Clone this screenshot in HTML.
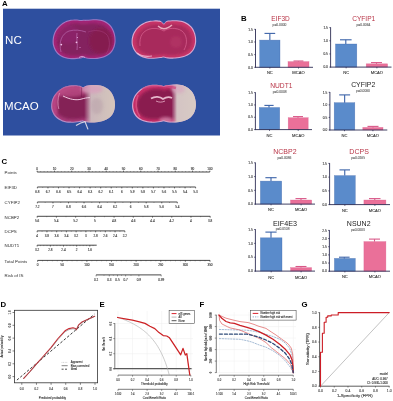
<!DOCTYPE html>
<html><head><meta charset="utf-8"><style>
html,body{margin:0;padding:0;background:#fff;}
body{width:393px;height:401px;overflow:hidden;}
svg{display:block;}
svg text{font-family:"Liberation Sans",sans-serif;}
</style></head><body>
<svg width="393" height="401" viewBox="0 0 393 401">
<defs><filter id="gblur" x="0" y="0" width="393" height="401" filterUnits="userSpaceOnUse"><feGaussianBlur stdDeviation="0.35"/></filter></defs>
<rect width="393" height="401" fill="#fff"/>
<g filter="url(#gblur)">
<rect width="393" height="401" fill="#fff"/>
<text x="2.00" y="6.40" font-size="7.8" fill="#000" text-anchor="start" font-weight="bold" >A</text>
<rect x="3.00" y="8.70" width="217.00" height="126.80" fill="#2f4f9f" />
<defs>
<filter id="bl" x="-0.1" y="-0.1" width="1.2" height="1.2"><feGaussianBlur stdDeviation="0.7"/></filter>
<filter id="bl2" x="-0.2" y="-0.2" width="1.4" height="1.4"><feGaussianBlur stdDeviation="1.6"/></filter>
<filter id="bl3" x="-0.2" y="-0.2" width="1.4" height="1.4"><feGaussianBlur stdDeviation="0.8"/></filter>
<linearGradient id="gM1" x1="0" x2="1" y1="0" y2="0">
<stop offset="0" stop-color="#d0b0c0" stop-opacity="0"/><stop offset="0.55" stop-color="#d0b0c0" stop-opacity="0"/><stop offset="0.64" stop-color="#ccb8bc" stop-opacity="1"/><stop offset="0.8" stop-color="#d0c0bc"/><stop offset="1" stop-color="#d8c8bc"/></linearGradient>
<linearGradient id="gM2" x1="0" x2="1" y1="0" y2="0">
<stop offset="0" stop-color="#d0b4c4" stop-opacity="0"/><stop offset="0.58" stop-color="#d0b4c4" stop-opacity="0"/><stop offset="0.65" stop-color="#d4c4c4" stop-opacity="1"/><stop offset="1" stop-color="#dacec4"/></linearGradient>
</defs>
<clipPath id="cp1"><path d="M 84.10,19.80 C 85.15,19.77 85.15,19.90 87.25,19.80 C 89.35,19.70 93.76,19.00 96.70,19.20 C 99.64,19.40 102.47,19.87 104.89,21.01 C 107.31,22.15 109.56,23.99 111.19,26.03 C 112.82,28.08 113.92,30.79 114.66,33.27 C 115.39,35.75 115.70,38.40 115.60,40.91 C 115.49,43.42 114.92,46.20 114.02,48.34 C 113.13,50.49 111.98,52.26 110.24,53.77 C 108.51,55.28 106.15,56.52 103.63,57.39 C 101.11,58.26 97.75,58.76 95.12,59.00 C 92.50,59.23 89.72,59.00 87.88,58.80 C 86.04,58.60 85.36,57.86 84.10,57.79 C 82.84,57.73 82.42,58.16 80.32,58.39 C 78.22,58.63 74.28,59.30 71.50,59.20 C 68.72,59.10 65.99,58.70 63.62,57.79 C 61.26,56.89 59.00,55.51 57.32,53.77 C 55.64,52.03 54.33,49.58 53.54,47.34 C 52.76,45.10 52.44,42.82 52.60,40.30 C 52.76,37.79 53.39,34.71 54.49,32.27 C 55.59,29.82 57.17,27.54 59.21,25.63 C 61.26,23.72 64.20,21.85 66.77,20.81 C 69.35,19.77 72.29,19.53 74.65,19.40 C 77.01,19.27 79.37,19.94 80.95,20.00 C 82.52,20.07 83.05,19.84 84.10,19.80 Z"/></clipPath>
<g filter="url(#bl)">
<path d="M 84.10,19.80 C 85.15,19.77 85.15,19.90 87.25,19.80 C 89.35,19.70 93.76,19.00 96.70,19.20 C 99.64,19.40 102.47,19.87 104.89,21.01 C 107.31,22.15 109.56,23.99 111.19,26.03 C 112.82,28.08 113.92,30.79 114.66,33.27 C 115.39,35.75 115.70,38.40 115.60,40.91 C 115.49,43.42 114.92,46.20 114.02,48.34 C 113.13,50.49 111.98,52.26 110.24,53.77 C 108.51,55.28 106.15,56.52 103.63,57.39 C 101.11,58.26 97.75,58.76 95.12,59.00 C 92.50,59.23 89.72,59.00 87.88,58.80 C 86.04,58.60 85.36,57.86 84.10,57.79 C 82.84,57.73 82.42,58.16 80.32,58.39 C 78.22,58.63 74.28,59.30 71.50,59.20 C 68.72,59.10 65.99,58.70 63.62,57.79 C 61.26,56.89 59.00,55.51 57.32,53.77 C 55.64,52.03 54.33,49.58 53.54,47.34 C 52.76,45.10 52.44,42.82 52.60,40.30 C 52.76,37.79 53.39,34.71 54.49,32.27 C 55.59,29.82 57.17,27.54 59.21,25.63 C 61.26,23.72 64.20,21.85 66.77,20.81 C 69.35,19.77 72.29,19.53 74.65,19.40 C 77.01,19.27 79.37,19.94 80.95,20.00 C 82.52,20.07 83.05,19.84 84.10,19.80 Z" fill="#a478c4"/>
<path d="M 84.10,20.87 C 85.11,20.84 85.11,20.96 87.14,20.87 C 89.17,20.77 93.42,20.11 96.26,20.30 C 99.10,20.49 101.83,20.93 104.16,22.01 C 106.49,23.09 108.67,24.83 110.24,26.76 C 111.81,28.69 112.88,31.26 113.59,33.60 C 114.30,35.94 114.60,38.45 114.50,40.82 C 114.40,43.20 113.84,45.82 112.98,47.85 C 112.12,49.88 111.00,51.55 109.33,52.98 C 107.66,54.41 105.38,55.58 102.95,56.40 C 100.52,57.22 97.27,57.70 94.74,57.92 C 92.21,58.14 89.52,57.92 87.75,57.73 C 85.97,57.54 85.32,56.84 84.10,56.78 C 82.88,56.72 82.48,57.13 80.45,57.35 C 78.43,57.57 74.63,58.20 71.94,58.11 C 69.25,58.02 66.62,57.64 64.34,56.78 C 62.06,55.92 59.88,54.63 58.26,52.98 C 56.64,51.33 55.37,49.02 54.61,46.90 C 53.85,44.78 53.55,42.62 53.70,40.25 C 53.85,37.88 54.46,34.96 55.52,32.65 C 56.59,30.34 58.11,28.18 60.08,26.38 C 62.06,24.57 64.90,22.80 67.38,21.82 C 69.86,20.84 72.70,20.62 74.98,20.49 C 77.26,20.36 79.54,21.00 81.06,21.06 C 82.58,21.12 83.09,20.90 84.10,20.87 Z" fill="#a42476"/>
<g clip-path="url(#cp1)"><path d="M 84.30,23.89 C 85.21,23.86 85.21,23.97 87.03,23.89 C 88.85,23.81 92.67,23.24 95.22,23.40 C 97.77,23.56 100.22,23.94 102.32,24.87 C 104.41,25.79 106.37,27.28 107.78,28.94 C 109.19,30.60 110.14,32.80 110.78,34.81 C 111.42,36.82 111.69,38.97 111.60,41.00 C 111.51,43.04 111.01,45.30 110.23,47.03 C 109.46,48.77 108.46,50.21 106.96,51.44 C 105.46,52.66 103.41,53.66 101.23,54.37 C 99.04,55.08 96.13,55.48 93.85,55.67 C 91.58,55.86 89.17,55.67 87.58,55.51 C 85.98,55.35 85.39,54.75 84.30,54.70 C 83.21,54.64 82.84,54.99 81.02,55.18 C 79.20,55.38 75.79,55.92 73.38,55.84 C 70.97,55.76 68.60,55.43 66.55,54.70 C 64.51,53.96 62.55,52.85 61.09,51.44 C 59.64,50.02 58.50,48.04 57.82,46.22 C 57.14,44.40 56.86,42.55 57.00,40.51 C 57.14,38.48 57.68,35.98 58.64,33.99 C 59.59,32.01 60.96,30.16 62.73,28.62 C 64.51,27.07 67.06,25.55 69.28,24.70 C 71.51,23.86 74.06,23.67 76.11,23.56 C 78.16,23.45 80.20,24.00 81.57,24.05 C 82.93,24.11 83.39,23.92 84.30,23.89 Z" fill="#84205e" filter="url(#bl2)"/></g>
<ellipse cx="68" cy="34" rx="11" ry="10" fill="#922870" opacity="0.5" filter="url(#bl2)"/>
<ellipse cx="101" cy="41" rx="12" ry="13" fill="#861a4c" opacity="0.75" filter="url(#bl2)"/>
<path d="M61,52 C58.5,42 61.5,34 69,31 C75,29.5 80,30 86,32" stroke="#c070b8" stroke-width="0.8" fill="none" opacity="0.75"/>
<path d="M88,32 C95,29.5 103,30 107.5,35.5 C110.5,41 110,49 106,54" stroke="#a84080" stroke-width="0.8" fill="none" opacity="0.6"/>
<path d="M77,33 C76,38 78,44 77,50" stroke="#c878c0" stroke-width="1.0" fill="none" opacity="0.6"/>
<circle cx="61.3" cy="44.6" r="0.9" fill="#f4c8f0"/>
<circle cx="76.5" cy="42.3" r="0.9" fill="#f0c0e8"/>
<circle cx="77.4" cy="37.5" r="0.6" fill="#e8b0e0"/>
<circle cx="80" cy="47.5" r="0.6" fill="#d890d0"/>
<path d="M79,57.5 C81,56 83,56 85,57.5" stroke="#e0b0e0" stroke-width="1.0" fill="none" opacity="0.8"/>
</g>
<clipPath id="cp2"><path d="M 163.90,23.69 C 164.98,23.66 164.98,21.36 167.13,20.78 C 169.28,20.20 173.81,20.01 176.82,20.20 C 179.83,20.39 182.74,20.85 185.22,21.95 C 187.69,23.05 190.01,24.82 191.68,26.80 C 193.35,28.77 194.48,31.39 195.23,33.78 C 195.98,36.17 196.31,38.73 196.20,41.15 C 196.09,43.58 195.50,46.26 194.59,48.33 C 193.67,50.40 192.49,52.11 190.71,53.57 C 188.93,55.02 186.51,56.22 183.93,57.06 C 181.34,57.90 177.90,58.39 175.21,58.61 C 172.51,58.84 169.66,58.61 167.78,58.42 C 165.89,58.22 165.19,57.51 163.90,57.45 C 162.61,57.38 162.18,57.80 160.02,58.03 C 157.87,58.26 153.83,58.90 150.98,58.81 C 148.13,58.71 145.33,58.32 142.91,57.45 C 140.48,56.58 138.17,55.25 136.44,53.57 C 134.72,51.89 133.38,49.53 132.57,47.36 C 131.76,45.19 131.44,42.99 131.60,40.57 C 131.76,38.15 132.41,35.17 133.54,32.81 C 134.67,30.45 136.28,28.25 138.38,26.41 C 140.48,24.57 143.50,22.75 146.13,21.75 C 148.77,20.75 151.79,20.52 154.21,20.39 C 156.63,20.26 159.06,20.43 160.67,20.98 C 162.29,21.53 162.82,23.72 163.90,23.69 Z"/></clipPath>
<g filter="url(#bl)">
<path d="M 163.90,23.69 C 164.98,23.66 164.98,21.36 167.13,20.78 C 169.28,20.20 173.81,20.01 176.82,20.20 C 179.83,20.39 182.74,20.85 185.22,21.95 C 187.69,23.05 190.01,24.82 191.68,26.80 C 193.35,28.77 194.48,31.39 195.23,33.78 C 195.98,36.17 196.31,38.73 196.20,41.15 C 196.09,43.58 195.50,46.26 194.59,48.33 C 193.67,50.40 192.49,52.11 190.71,53.57 C 188.93,55.02 186.51,56.22 183.93,57.06 C 181.34,57.90 177.90,58.39 175.21,58.61 C 172.51,58.84 169.66,58.61 167.78,58.42 C 165.89,58.22 165.19,57.51 163.90,57.45 C 162.61,57.38 162.18,57.80 160.02,58.03 C 157.87,58.26 153.83,58.90 150.98,58.81 C 148.13,58.71 145.33,58.32 142.91,57.45 C 140.48,56.58 138.17,55.25 136.44,53.57 C 134.72,51.89 133.38,49.53 132.57,47.36 C 131.76,45.19 131.44,42.99 131.60,40.57 C 131.76,38.15 132.41,35.17 133.54,32.81 C 134.67,30.45 136.28,28.25 138.38,26.41 C 140.48,24.57 143.50,22.75 146.13,21.75 C 148.77,20.75 151.79,20.52 154.21,20.39 C 156.63,20.26 159.06,20.43 160.67,20.98 C 162.29,21.53 162.82,23.72 163.90,23.69 Z" fill="#d8a8d0"/>
<path d="M 163.90,24.59 C 164.94,24.56 164.94,22.40 167.02,21.85 C 169.10,21.30 173.47,21.12 176.38,21.30 C 179.29,21.48 182.10,21.91 184.49,22.95 C 186.88,23.98 189.12,25.66 190.73,27.52 C 192.34,29.38 193.44,31.85 194.16,34.11 C 194.89,36.37 195.20,38.78 195.10,41.06 C 195.00,43.35 194.42,45.88 193.54,47.84 C 192.66,49.79 191.51,51.40 189.80,52.78 C 188.08,54.15 185.74,55.28 183.24,56.07 C 180.75,56.86 177.42,57.32 174.82,57.53 C 172.22,57.75 169.46,57.53 167.64,57.35 C 165.82,57.17 165.15,56.50 163.90,56.44 C 162.65,56.38 162.24,56.77 160.16,56.98 C 158.08,57.20 154.18,57.81 151.42,57.72 C 148.66,57.63 145.96,57.26 143.62,56.44 C 141.28,55.61 139.04,54.36 137.38,52.78 C 135.72,51.19 134.42,48.96 133.64,46.92 C 132.86,44.88 132.54,42.80 132.70,40.52 C 132.86,38.23 133.48,35.42 134.57,33.20 C 135.66,30.97 137.22,28.89 139.25,27.16 C 141.28,25.42 144.19,23.71 146.74,22.76 C 149.29,21.82 152.20,21.61 154.54,21.48 C 156.88,21.36 159.22,21.51 160.78,22.03 C 162.34,22.55 162.86,24.62 163.90,24.59 Z" fill="#c83468"/>
<g clip-path="url(#cp2)"><path d="M 164.10,27.21 C 165.04,27.18 165.04,25.34 166.91,24.87 C 168.78,24.40 172.72,24.24 175.34,24.40 C 177.96,24.56 180.49,24.92 182.65,25.80 C 184.80,26.69 186.81,28.12 188.27,29.70 C 189.72,31.29 190.70,33.40 191.36,35.32 C 192.01,37.24 192.29,39.30 192.20,41.25 C 192.11,43.20 191.59,45.36 190.79,47.02 C 190.00,48.68 188.97,50.06 187.42,51.23 C 185.88,52.40 183.77,53.36 181.52,54.04 C 179.27,54.72 176.28,55.11 173.94,55.29 C 171.59,55.47 169.11,55.29 167.47,55.13 C 165.83,54.98 165.22,54.40 164.10,54.35 C 162.98,54.30 162.60,54.64 160.73,54.82 C 158.85,55.00 155.34,55.52 152.86,55.44 C 150.38,55.37 147.94,55.05 145.83,54.35 C 143.73,53.65 141.71,52.58 140.22,51.23 C 138.72,49.88 137.55,47.98 136.84,46.24 C 136.14,44.50 135.86,42.73 136.00,40.78 C 136.14,38.83 136.70,36.44 137.69,34.54 C 138.67,32.64 140.07,30.87 141.90,29.39 C 143.73,27.91 146.35,26.45 148.64,25.65 C 150.94,24.84 153.56,24.66 155.67,24.56 C 157.78,24.45 159.88,24.58 161.29,25.02 C 162.69,25.47 163.16,27.23 164.10,27.21 Z" fill="#a82a5c" filter="url(#bl2)"/></g>
<path d="M158,26 C162,30 166,30 172,25" stroke="#f2b8c8" stroke-width="1.4" fill="none" opacity="0.9"/>
<path d="M140,46 C139,36 143,30 152,28.5 C158,28 161,29.5 164,31 C168,28 176,27 182,31 C187,35 188,43 184,50" stroke="#d86090" stroke-width="0.9" fill="none" opacity="0.8"/>
<path d="M137,53 C141,56 146,57 152,56" stroke="#f0c0d8" stroke-width="1.2" fill="none" opacity="0.8"/>
<ellipse cx="176" cy="42" rx="6" ry="6" fill="#b83a6a" opacity="0.5" filter="url(#bl2)"/>
</g>
<clipPath id="cp3"><path d="M 83.10,87.37 C 84.16,87.34 84.16,86.05 86.29,85.67 C 88.42,85.29 92.88,84.91 95.86,85.10 C 98.84,85.29 101.71,85.73 104.15,86.80 C 106.60,87.87 108.89,89.60 110.53,91.53 C 112.18,93.45 113.30,96.00 114.04,98.33 C 114.79,100.66 115.11,103.15 115.00,105.51 C 114.89,107.87 114.31,110.49 113.40,112.50 C 112.50,114.52 111.33,116.19 109.58,117.61 C 107.82,119.03 105.43,120.19 102.88,121.01 C 100.33,121.83 96.92,122.30 94.26,122.52 C 91.61,122.74 88.79,122.52 86.93,122.33 C 85.07,122.14 84.38,121.45 83.10,121.39 C 81.82,121.33 81.40,121.73 79.27,121.95 C 77.15,122.18 73.16,122.81 70.34,122.71 C 67.52,122.62 64.76,122.24 62.36,121.39 C 59.97,120.54 57.69,119.25 55.98,117.61 C 54.28,115.97 52.95,113.67 52.16,111.56 C 51.36,109.45 51.04,107.31 51.20,104.94 C 51.36,102.58 52.00,99.68 53.11,97.39 C 54.23,95.09 55.83,92.94 57.90,91.15 C 59.97,89.35 62.95,87.59 65.55,86.61 C 68.16,85.64 71.14,85.42 73.53,85.29 C 75.92,85.16 78.31,85.51 79.91,85.86 C 81.50,86.20 82.04,87.40 83.10,87.37 Z"/></clipPath>
<g filter="url(#bl)">
<path d="M 83.10,87.37 C 84.16,87.34 84.16,86.05 86.29,85.67 C 88.42,85.29 92.88,84.91 95.86,85.10 C 98.84,85.29 101.71,85.73 104.15,86.80 C 106.60,87.87 108.89,89.60 110.53,91.53 C 112.18,93.45 113.30,96.00 114.04,98.33 C 114.79,100.66 115.11,103.15 115.00,105.51 C 114.89,107.87 114.31,110.49 113.40,112.50 C 112.50,114.52 111.33,116.19 109.58,117.61 C 107.82,119.03 105.43,120.19 102.88,121.01 C 100.33,121.83 96.92,122.30 94.26,122.52 C 91.61,122.74 88.79,122.52 86.93,122.33 C 85.07,122.14 84.38,121.45 83.10,121.39 C 81.82,121.33 81.40,121.73 79.27,121.95 C 77.15,122.18 73.16,122.81 70.34,122.71 C 67.52,122.62 64.76,122.24 62.36,121.39 C 59.97,120.54 57.69,119.25 55.98,117.61 C 54.28,115.97 52.95,113.67 52.16,111.56 C 51.36,109.45 51.04,107.31 51.20,104.94 C 51.36,102.58 52.00,99.68 53.11,97.39 C 54.23,95.09 55.83,92.94 57.90,91.15 C 59.97,89.35 62.95,87.59 65.55,86.61 C 68.16,85.64 71.14,85.42 73.53,85.29 C 75.92,85.16 78.31,85.51 79.91,85.86 C 81.50,86.20 82.04,87.40 83.10,87.37 Z" fill="#b890c8"/>
<path d="M 83.10,88.34 C 84.13,88.31 84.13,87.09 86.18,86.73 C 88.23,86.38 92.55,86.02 95.42,86.20 C 98.29,86.38 101.07,86.79 103.43,87.80 C 105.79,88.81 108.00,90.44 109.59,92.25 C 111.18,94.06 112.26,96.46 112.98,98.66 C 113.69,100.86 114.00,103.20 113.90,105.42 C 113.80,107.65 113.23,110.11 112.36,112.01 C 111.49,113.91 110.36,115.48 108.66,116.82 C 106.97,118.15 104.66,119.25 102.20,120.02 C 99.73,120.79 96.45,121.24 93.88,121.44 C 91.31,121.65 88.59,121.44 86.80,121.27 C 85.00,121.09 84.33,120.44 83.10,120.38 C 81.87,120.32 81.46,120.70 79.40,120.91 C 77.35,121.12 73.50,121.71 70.78,121.62 C 68.06,121.53 65.39,121.18 63.08,120.38 C 60.77,119.58 58.56,118.36 56.92,116.82 C 55.28,115.27 53.99,113.11 53.22,111.12 C 52.45,109.13 52.15,107.12 52.30,104.89 C 52.45,102.66 53.07,99.94 54.15,97.77 C 55.23,95.60 56.77,93.59 58.77,91.90 C 60.77,90.20 63.64,88.54 66.16,87.62 C 68.68,86.70 71.55,86.50 73.86,86.38 C 76.17,86.26 78.48,86.59 80.02,86.91 C 81.56,87.24 82.07,88.37 83.10,88.34 Z" fill="#a83a78"/>
<g clip-path="url(#cp3)"><path d="M 83.30,91.11 C 84.22,91.09 84.22,90.06 86.07,89.75 C 87.92,89.45 91.79,89.15 94.38,89.30 C 96.97,89.45 99.46,89.80 101.58,90.66 C 103.71,91.51 105.69,92.90 107.12,94.43 C 108.55,95.97 109.52,98.01 110.17,99.87 C 110.82,101.73 111.09,103.72 111.00,105.61 C 110.91,107.50 110.40,109.58 109.61,111.20 C 108.83,112.81 107.81,114.14 106.29,115.27 C 104.77,116.40 102.69,117.34 100.47,117.99 C 98.26,118.64 95.30,119.02 92.99,119.20 C 90.69,119.37 88.24,119.20 86.62,119.05 C 85.01,118.90 84.41,118.34 83.30,118.29 C 82.19,118.24 81.82,118.57 79.98,118.75 C 78.13,118.92 74.67,119.42 72.22,119.35 C 69.77,119.27 67.37,118.97 65.30,118.29 C 63.22,117.61 61.23,116.58 59.75,115.27 C 58.28,113.96 57.12,112.13 56.43,110.44 C 55.74,108.75 55.46,107.04 55.60,105.16 C 55.74,103.27 56.29,100.95 57.26,99.12 C 58.23,97.28 59.62,95.57 61.42,94.13 C 63.22,92.70 65.80,91.29 68.06,90.51 C 70.33,89.73 72.91,89.55 74.99,89.45 C 77.07,89.35 79.14,89.63 80.53,89.90 C 81.92,90.18 82.38,91.14 83.30,91.11 Z" fill="#842256" filter="url(#bl2)"/></g>
<g clip-path="url(#cp3)">
<ellipse cx="70" cy="91" rx="17" ry="6" fill="#c05088" opacity="0.75" filter="url(#bl2)"/>
<ellipse cx="55" cy="104" rx="3" ry="12" fill="#c85090" opacity="0.6" filter="url(#bl2)"/>
<rect x="40" y="80" width="80" height="50" fill="url(#gM1)"/>
<ellipse cx="92" cy="89" rx="11" ry="4.5" fill="#d8a0bc" opacity="0.8" filter="url(#bl2)"/>
<ellipse cx="97" cy="106" rx="6" ry="8" fill="#b8a0a8" opacity="0.5" filter="url(#bl2)"/>
</g>
<path d="M63,96 C70,99.5 76,100.5 81,99.2 C84,98.3 87,97.6 90,97.6" stroke="#f0c8e0" stroke-width="1.0" fill="none"/>
<path d="M59.5,93 C57.5,99 57.5,104 58.8,109" stroke="#f0b8d8" stroke-width="0.7" fill="none" opacity="0.8"/>
<path d="M81.6,87.5 L81.6,97" stroke="#6a1040" stroke-width="0.6" fill="none" opacity="0.7"/>
</g>
<clipPath id="cp4"><path d="M 164.00,86.04 C 165.06,86.00 165.06,85.33 167.19,85.08 C 169.32,84.82 173.78,84.31 176.76,84.50 C 179.74,84.69 182.61,85.14 185.05,86.23 C 187.50,87.32 189.79,89.08 191.43,91.03 C 193.08,92.98 194.20,95.57 194.94,97.94 C 195.69,100.31 196.01,102.84 195.90,105.24 C 195.79,107.64 195.21,110.29 194.31,112.34 C 193.40,114.39 192.23,116.08 190.48,117.52 C 188.72,118.96 186.33,120.15 183.78,120.98 C 181.23,121.81 177.82,122.29 175.16,122.52 C 172.51,122.74 169.69,122.52 167.83,122.32 C 165.97,122.13 165.28,121.43 164.00,121.36 C 162.72,121.30 162.30,121.72 160.17,121.94 C 158.05,122.16 154.06,122.80 151.24,122.71 C 148.42,122.61 145.66,122.23 143.26,121.36 C 140.87,120.50 138.59,119.19 136.88,117.52 C 135.18,115.86 133.85,113.52 133.06,111.38 C 132.26,109.24 131.94,107.06 132.10,104.66 C 132.26,102.26 132.90,99.32 134.01,96.98 C 135.13,94.64 136.73,92.47 138.80,90.64 C 140.87,88.82 143.85,87.03 146.45,86.04 C 149.06,85.04 152.04,84.82 154.43,84.69 C 156.82,84.56 159.22,85.04 160.81,85.27 C 162.41,85.49 162.94,86.07 164.00,86.04 Z"/></clipPath>
<g filter="url(#bl)">
<path d="M 164.00,86.04 C 165.06,86.00 165.06,85.33 167.19,85.08 C 169.32,84.82 173.78,84.31 176.76,84.50 C 179.74,84.69 182.61,85.14 185.05,86.23 C 187.50,87.32 189.79,89.08 191.43,91.03 C 193.08,92.98 194.20,95.57 194.94,97.94 C 195.69,100.31 196.01,102.84 195.90,105.24 C 195.79,107.64 195.21,110.29 194.31,112.34 C 193.40,114.39 192.23,116.08 190.48,117.52 C 188.72,118.96 186.33,120.15 183.78,120.98 C 181.23,121.81 177.82,122.29 175.16,122.52 C 172.51,122.74 169.69,122.52 167.83,122.32 C 165.97,122.13 165.28,121.43 164.00,121.36 C 162.72,121.30 162.30,121.72 160.17,121.94 C 158.05,122.16 154.06,122.80 151.24,122.71 C 148.42,122.61 145.66,122.23 143.26,121.36 C 140.87,120.50 138.59,119.19 136.88,117.52 C 135.18,115.86 133.85,113.52 133.06,111.38 C 132.26,109.24 131.94,107.06 132.10,104.66 C 132.26,102.26 132.90,99.32 134.01,96.98 C 135.13,94.64 136.73,92.47 138.80,90.64 C 140.87,88.82 143.85,87.03 146.45,86.04 C 149.06,85.04 152.04,84.82 154.43,84.69 C 156.82,84.56 159.22,85.04 160.81,85.27 C 162.41,85.49 162.94,86.07 164.00,86.04 Z" fill="#d8a8d0"/>
<path d="M 164.00,87.05 C 165.03,87.02 165.03,86.38 167.08,86.14 C 169.13,85.90 173.45,85.42 176.32,85.60 C 179.19,85.78 181.97,86.20 184.33,87.23 C 186.69,88.25 188.90,89.91 190.49,91.75 C 192.08,93.59 193.16,96.04 193.88,98.27 C 194.59,100.50 194.90,102.89 194.80,105.15 C 194.70,107.41 194.13,109.91 193.26,111.84 C 192.39,113.78 191.26,115.37 189.56,116.73 C 187.87,118.09 185.56,119.21 183.10,119.99 C 180.63,120.77 177.35,121.23 174.78,121.44 C 172.21,121.65 169.49,121.44 167.70,121.26 C 165.90,121.08 165.23,120.41 164.00,120.35 C 162.77,120.29 162.36,120.68 160.30,120.89 C 158.25,121.11 154.40,121.71 151.68,121.62 C 148.96,121.53 146.29,121.17 143.98,120.35 C 141.67,119.54 139.46,118.30 137.82,116.73 C 136.18,115.16 134.89,112.96 134.12,110.94 C 133.35,108.92 133.05,106.87 133.20,104.61 C 133.35,102.34 133.97,99.57 135.05,97.37 C 136.13,95.16 137.67,93.11 139.67,91.39 C 141.67,89.67 144.54,87.98 147.06,87.05 C 149.58,86.11 152.45,85.90 154.76,85.78 C 157.07,85.66 159.38,86.11 160.92,86.32 C 162.46,86.54 162.97,87.08 164.00,87.05 Z" fill="#c83068"/>
<g clip-path="url(#cp4)"><path d="M 164.20,89.93 C 165.12,89.91 165.12,89.37 166.97,89.16 C 168.82,88.96 172.69,88.55 175.28,88.70 C 177.87,88.85 180.36,89.21 182.48,90.09 C 184.61,90.96 186.59,92.37 188.02,93.94 C 189.45,95.50 190.42,97.58 191.07,99.48 C 191.72,101.38 191.99,103.41 191.90,105.33 C 191.81,107.26 191.30,109.39 190.51,111.03 C 189.73,112.67 188.71,114.03 187.19,115.19 C 185.67,116.34 183.59,117.29 181.37,117.96 C 179.16,118.63 176.20,119.01 173.89,119.19 C 171.59,119.37 169.14,119.19 167.52,119.04 C 165.91,118.88 165.31,118.32 164.20,118.27 C 163.09,118.22 162.72,118.55 160.88,118.73 C 159.03,118.91 155.57,119.42 153.12,119.35 C 150.67,119.27 148.27,118.96 146.19,118.27 C 144.12,117.58 142.13,116.52 140.66,115.19 C 139.18,113.85 138.02,111.98 137.33,110.26 C 136.64,108.54 136.36,106.80 136.50,104.87 C 136.64,102.95 137.19,100.58 138.16,98.71 C 139.13,96.84 140.52,95.09 142.32,93.63 C 144.12,92.17 146.70,90.73 148.96,89.93 C 151.23,89.14 153.81,88.96 155.89,88.85 C 157.97,88.75 160.04,89.14 161.43,89.32 C 162.81,89.50 163.28,89.96 164.20,89.93 Z" fill="#8a1c50" filter="url(#bl2)"/></g>
<g clip-path="url(#cp4)">
<rect x="125" y="80" width="80" height="50" fill="url(#gM2)"/>
<ellipse cx="178" cy="89" rx="7" ry="4.5" fill="#d8a8c0" opacity="0.7" filter="url(#bl2)"/>
<ellipse cx="166" cy="120" rx="7" ry="3" fill="#d8a0c0" opacity="0.6" filter="url(#bl2)"/>
</g>
<path d="M151,98.5 C155,96 160,96.5 163,99 C166,97 169,96.5 172,98" stroke="#f0c8d8" stroke-width="1.8" fill="none" opacity="0.9"/>
<path d="M156,101 C159,102.5 162,102.5 165,101" stroke="#e8b0c8" stroke-width="1.0" fill="none" opacity="0.8"/>
<path d="M138,95 C135,103 136,111 140,117" stroke="#e05888" stroke-width="1.6" fill="none" opacity="0.7"/>
<path d="M142,88 C152,85 164,85 176,88" stroke="#d04880" stroke-width="2.4" fill="none" opacity="0.7" clip-path="url(#cp4)"/>
</g>
<path d="M76,125.5 C80,123 83,122 85,121.6 L88,129.4" stroke="#e8e0e8" stroke-width="1.2" fill="none" opacity="0.9" filter="url(#bl)"/>
<text x="5.10" y="44.10" font-size="11.5" fill="#fff" text-anchor="start" >NC</text>
<text x="4.10" y="110.40" font-size="11.5" fill="#fff" text-anchor="start" >MCAO</text>
<text x="241.00" y="20.90" font-size="7.8" fill="#000" text-anchor="start" font-weight="bold" >B</text>
<rect x="259.70" y="40.10" width="20.30" height="27.20" fill="#5a8bcb" stroke="#3a62a8" stroke-width="0.5" stroke-opacity="0.6"/>
<line x1="269.85" y1="40.10" x2="269.85" y2="33.40" stroke="#3a62a8" stroke-width="1.1" />
<line x1="264.50" y1="33.40" x2="275.20" y2="33.40" stroke="#3a62a8" stroke-width="1.1" />
<rect x="288.00" y="61.60" width="21.00" height="5.70" fill="#ea7099" stroke="#d85888" stroke-width="0.5" stroke-opacity="0.6"/>
<line x1="298.45" y1="61.60" x2="298.45" y2="61.00" stroke="#d85888" stroke-width="1.1" />
<line x1="293.50" y1="61.00" x2="303.40" y2="61.00" stroke="#d85888" stroke-width="1.1" />
<line x1="255.50" y1="29.00" x2="255.50" y2="67.70" stroke="#2c2c54" stroke-width="0.9" />
<line x1="255.10" y1="67.30" x2="313.00" y2="67.30" stroke="#2c2c54" stroke-width="0.9" />
<line x1="254.30" y1="67.30" x2="255.50" y2="67.30" stroke="#2c2c54" stroke-width="0.8" />
<text x="252.80" y="68.50" font-size="3.2" fill="#333" text-anchor="end" stroke="#333" stroke-width="0.1" >0.0</text>
<line x1="254.30" y1="54.63" x2="255.50" y2="54.63" stroke="#2c2c54" stroke-width="0.8" />
<text x="252.80" y="55.83" font-size="3.2" fill="#333" text-anchor="end" stroke="#333" stroke-width="0.1" >0.5</text>
<line x1="254.30" y1="41.97" x2="255.50" y2="41.97" stroke="#2c2c54" stroke-width="0.8" />
<text x="252.80" y="43.17" font-size="3.2" fill="#333" text-anchor="end" stroke="#333" stroke-width="0.1" >1.0</text>
<line x1="254.30" y1="29.30" x2="255.50" y2="29.30" stroke="#2c2c54" stroke-width="0.8" />
<text x="252.80" y="30.50" font-size="3.2" fill="#333" text-anchor="end" stroke="#333" stroke-width="0.1" >1.5</text>
<line x1="269.85" y1="67.30" x2="269.85" y2="68.50" stroke="#2c2c54" stroke-width="0.8" />
<text x="269.85" y="74.40" font-size="4.1" fill="#333" text-anchor="middle" stroke="#333" stroke-width="0.1" >NC</text>
<line x1="298.50" y1="67.30" x2="298.50" y2="68.50" stroke="#2c2c54" stroke-width="0.8" />
<text x="298.50" y="74.40" font-size="4.1" fill="#333" text-anchor="middle" stroke="#333" stroke-width="0.1" >MCAO</text>
<text x="280.50" y="20.60" font-size="6.5" fill="#b83446" text-anchor="middle" >EIF3D</text>
<text x="279.50" y="26.00" font-size="3.3" fill="#666" text-anchor="middle" stroke="#666" stroke-width="0.1" >p=0.0000</text>
<rect x="335.50" y="44.00" width="21.30" height="23.10" fill="#5a8bcb" stroke="#3a62a8" stroke-width="0.5" stroke-opacity="0.6"/>
<line x1="345.80" y1="44.00" x2="345.80" y2="39.80" stroke="#3a62a8" stroke-width="1.1" />
<line x1="340.00" y1="39.80" x2="351.60" y2="39.80" stroke="#3a62a8" stroke-width="1.1" />
<rect x="366.20" y="63.80" width="21.40" height="3.30" fill="#ea7099" stroke="#d85888" stroke-width="0.5" stroke-opacity="0.6"/>
<line x1="376.50" y1="63.80" x2="376.50" y2="62.60" stroke="#d85888" stroke-width="1.1" />
<line x1="371.00" y1="62.60" x2="382.00" y2="62.60" stroke="#d85888" stroke-width="1.1" />
<line x1="330.60" y1="27.30" x2="330.60" y2="67.50" stroke="#2c2c54" stroke-width="0.9" />
<line x1="330.20" y1="67.10" x2="391.50" y2="67.10" stroke="#2c2c54" stroke-width="0.9" />
<line x1="329.40" y1="67.10" x2="330.60" y2="67.10" stroke="#2c2c54" stroke-width="0.8" />
<text x="327.90" y="68.30" font-size="3.2" fill="#333" text-anchor="end" stroke="#333" stroke-width="0.1" >0.0</text>
<line x1="329.40" y1="53.93" x2="330.60" y2="53.93" stroke="#2c2c54" stroke-width="0.8" />
<text x="327.90" y="55.13" font-size="3.2" fill="#333" text-anchor="end" stroke="#333" stroke-width="0.1" >0.5</text>
<line x1="329.40" y1="40.77" x2="330.60" y2="40.77" stroke="#2c2c54" stroke-width="0.8" />
<text x="327.90" y="41.97" font-size="3.2" fill="#333" text-anchor="end" stroke="#333" stroke-width="0.1" >1.0</text>
<line x1="329.40" y1="27.60" x2="330.60" y2="27.60" stroke="#2c2c54" stroke-width="0.8" />
<text x="327.90" y="28.80" font-size="3.2" fill="#333" text-anchor="end" stroke="#333" stroke-width="0.1" >1.5</text>
<line x1="346.15" y1="67.10" x2="346.15" y2="68.30" stroke="#2c2c54" stroke-width="0.8" />
<text x="346.15" y="74.40" font-size="4.1" fill="#333" text-anchor="middle" stroke="#333" stroke-width="0.1" >NC</text>
<line x1="376.90" y1="67.10" x2="376.90" y2="68.30" stroke="#2c2c54" stroke-width="0.8" />
<text x="376.90" y="74.40" font-size="4.1" fill="#333" text-anchor="middle" stroke="#333" stroke-width="0.1" >MCAO</text>
<text x="363.70" y="21.10" font-size="6.6" fill="#b83446" text-anchor="middle" >CYFIP1</text>
<text x="363.40" y="26.00" font-size="3.3" fill="#666" text-anchor="middle" stroke="#666" stroke-width="0.1" >p=0.0064</text>
<rect x="259.30" y="107.50" width="20.40" height="22.10" fill="#5a8bcb" stroke="#3a62a8" stroke-width="0.5" stroke-opacity="0.6"/>
<line x1="269.00" y1="107.50" x2="269.00" y2="105.40" stroke="#3a62a8" stroke-width="1.1" />
<line x1="264.40" y1="105.40" x2="273.60" y2="105.40" stroke="#3a62a8" stroke-width="1.1" />
<rect x="288.20" y="117.70" width="20.00" height="11.90" fill="#ea7099" stroke="#d85888" stroke-width="0.5" stroke-opacity="0.6"/>
<line x1="298.00" y1="117.70" x2="298.00" y2="116.60" stroke="#d85888" stroke-width="1.1" />
<line x1="293.00" y1="116.60" x2="303.00" y2="116.60" stroke="#d85888" stroke-width="1.1" />
<line x1="255.40" y1="92.30" x2="255.40" y2="130.00" stroke="#2c2c54" stroke-width="0.9" />
<line x1="255.00" y1="129.60" x2="312.00" y2="129.60" stroke="#2c2c54" stroke-width="0.9" />
<line x1="254.20" y1="129.60" x2="255.40" y2="129.60" stroke="#2c2c54" stroke-width="0.8" />
<text x="252.70" y="130.80" font-size="3.2" fill="#333" text-anchor="end" stroke="#333" stroke-width="0.1" >0.0</text>
<line x1="254.20" y1="117.27" x2="255.40" y2="117.27" stroke="#2c2c54" stroke-width="0.8" />
<text x="252.70" y="118.47" font-size="3.2" fill="#333" text-anchor="end" stroke="#333" stroke-width="0.1" >0.5</text>
<line x1="254.20" y1="104.93" x2="255.40" y2="104.93" stroke="#2c2c54" stroke-width="0.8" />
<text x="252.70" y="106.13" font-size="3.2" fill="#333" text-anchor="end" stroke="#333" stroke-width="0.1" >1.0</text>
<line x1="254.20" y1="92.60" x2="255.40" y2="92.60" stroke="#2c2c54" stroke-width="0.8" />
<text x="252.70" y="93.80" font-size="3.2" fill="#333" text-anchor="end" stroke="#333" stroke-width="0.1" >1.5</text>
<line x1="269.50" y1="129.60" x2="269.50" y2="130.80" stroke="#2c2c54" stroke-width="0.8" />
<text x="269.50" y="136.90" font-size="4.1" fill="#333" text-anchor="middle" stroke="#333" stroke-width="0.1" >NC</text>
<line x1="298.20" y1="129.60" x2="298.20" y2="130.80" stroke="#2c2c54" stroke-width="0.8" />
<text x="298.20" y="136.90" font-size="4.1" fill="#333" text-anchor="middle" stroke="#333" stroke-width="0.1" >MCAO</text>
<text x="281.30" y="88.10" font-size="6.7" fill="#b83446" text-anchor="middle" >NUDT1</text>
<text x="279.70" y="93.00" font-size="3.3" fill="#666" text-anchor="middle" stroke="#666" stroke-width="0.1" >p=0.0008</text>
<rect x="334.20" y="102.70" width="20.60" height="27.30" fill="#5a8bcb" stroke="#3a62a8" stroke-width="0.5" stroke-opacity="0.6"/>
<line x1="344.65" y1="102.70" x2="344.65" y2="94.90" stroke="#3a62a8" stroke-width="1.1" />
<line x1="339.20" y1="94.90" x2="350.10" y2="94.90" stroke="#3a62a8" stroke-width="1.1" />
<rect x="362.80" y="127.40" width="20.20" height="2.60" fill="#ea7099" stroke="#d85888" stroke-width="0.5" stroke-opacity="0.6"/>
<line x1="373.00" y1="127.40" x2="373.00" y2="126.40" stroke="#d85888" stroke-width="1.1" />
<line x1="367.50" y1="126.40" x2="378.50" y2="126.40" stroke="#d85888" stroke-width="1.1" />
<line x1="329.90" y1="92.00" x2="329.90" y2="130.40" stroke="#2c2c54" stroke-width="0.9" />
<line x1="329.50" y1="130.00" x2="387.30" y2="130.00" stroke="#2c2c54" stroke-width="0.9" />
<line x1="328.70" y1="130.00" x2="329.90" y2="130.00" stroke="#2c2c54" stroke-width="0.8" />
<text x="327.20" y="131.20" font-size="3.2" fill="#333" text-anchor="end" stroke="#333" stroke-width="0.1" >0.0</text>
<line x1="328.70" y1="117.43" x2="329.90" y2="117.43" stroke="#2c2c54" stroke-width="0.8" />
<text x="327.20" y="118.63" font-size="3.2" fill="#333" text-anchor="end" stroke="#333" stroke-width="0.1" >0.5</text>
<line x1="328.70" y1="104.87" x2="329.90" y2="104.87" stroke="#2c2c54" stroke-width="0.8" />
<text x="327.20" y="106.07" font-size="3.2" fill="#333" text-anchor="end" stroke="#333" stroke-width="0.1" >1.0</text>
<line x1="328.70" y1="92.30" x2="329.90" y2="92.30" stroke="#2c2c54" stroke-width="0.8" />
<text x="327.20" y="93.50" font-size="3.2" fill="#333" text-anchor="end" stroke="#333" stroke-width="0.1" >1.5</text>
<line x1="344.50" y1="130.00" x2="344.50" y2="131.20" stroke="#2c2c54" stroke-width="0.8" />
<text x="344.50" y="136.90" font-size="4.1" fill="#333" text-anchor="middle" stroke="#333" stroke-width="0.1" >NC</text>
<line x1="372.90" y1="130.00" x2="372.90" y2="131.20" stroke="#2c2c54" stroke-width="0.8" />
<text x="372.90" y="136.90" font-size="4.1" fill="#333" text-anchor="middle" stroke="#333" stroke-width="0.1" >MCAO</text>
<text x="363.20" y="87.30" font-size="6.9" fill="#222" text-anchor="middle" >CYFIP2</text>
<text x="363.00" y="91.90" font-size="3.3" fill="#666" text-anchor="middle" stroke="#666" stroke-width="0.1" >p=0.0060</text>
<rect x="260.40" y="181.10" width="21.30" height="23.00" fill="#5a8bcb" stroke="#3a62a8" stroke-width="0.5" stroke-opacity="0.6"/>
<line x1="271.00" y1="181.10" x2="271.00" y2="177.70" stroke="#3a62a8" stroke-width="1.1" />
<line x1="265.40" y1="177.70" x2="276.60" y2="177.70" stroke="#3a62a8" stroke-width="1.1" />
<rect x="290.50" y="200.00" width="21.20" height="4.10" fill="#ea7099" stroke="#d85888" stroke-width="0.5" stroke-opacity="0.6"/>
<line x1="301.00" y1="200.00" x2="301.00" y2="198.60" stroke="#d85888" stroke-width="1.1" />
<line x1="295.50" y1="198.60" x2="306.50" y2="198.60" stroke="#d85888" stroke-width="1.1" />
<line x1="255.40" y1="162.50" x2="255.40" y2="204.50" stroke="#2c2c54" stroke-width="0.9" />
<line x1="255.00" y1="204.10" x2="315.00" y2="204.10" stroke="#2c2c54" stroke-width="0.9" />
<line x1="254.20" y1="204.10" x2="255.40" y2="204.10" stroke="#2c2c54" stroke-width="0.8" />
<text x="252.70" y="205.30" font-size="3.2" fill="#333" text-anchor="end" stroke="#333" stroke-width="0.1" >0.0</text>
<line x1="254.20" y1="190.33" x2="255.40" y2="190.33" stroke="#2c2c54" stroke-width="0.8" />
<text x="252.70" y="191.53" font-size="3.2" fill="#333" text-anchor="end" stroke="#333" stroke-width="0.1" >0.5</text>
<line x1="254.20" y1="176.57" x2="255.40" y2="176.57" stroke="#2c2c54" stroke-width="0.8" />
<text x="252.70" y="177.77" font-size="3.2" fill="#333" text-anchor="end" stroke="#333" stroke-width="0.1" >1.0</text>
<line x1="254.20" y1="162.80" x2="255.40" y2="162.80" stroke="#2c2c54" stroke-width="0.8" />
<text x="252.70" y="164.00" font-size="3.2" fill="#333" text-anchor="end" stroke="#333" stroke-width="0.1" >1.5</text>
<line x1="271.05" y1="204.10" x2="271.05" y2="205.30" stroke="#2c2c54" stroke-width="0.8" />
<text x="271.05" y="211.30" font-size="4.1" fill="#333" text-anchor="middle" stroke="#333" stroke-width="0.1" >NC</text>
<line x1="301.10" y1="204.10" x2="301.10" y2="205.30" stroke="#2c2c54" stroke-width="0.8" />
<text x="301.10" y="211.30" font-size="4.1" fill="#333" text-anchor="middle" stroke="#333" stroke-width="0.1" >MCAO</text>
<text x="284.90" y="153.60" font-size="7.0" fill="#b83446" text-anchor="middle" >NCBP2</text>
<text x="284.40" y="159.00" font-size="3.3" fill="#666" text-anchor="middle" stroke="#666" stroke-width="0.1" >p=0.0086</text>
<rect x="334.40" y="175.60" width="20.90" height="29.00" fill="#5a8bcb" stroke="#3a62a8" stroke-width="0.5" stroke-opacity="0.6"/>
<line x1="344.75" y1="175.60" x2="344.75" y2="169.90" stroke="#3a62a8" stroke-width="1.1" />
<line x1="339.50" y1="169.90" x2="350.00" y2="169.90" stroke="#3a62a8" stroke-width="1.1" />
<rect x="363.90" y="200.00" width="22.00" height="4.60" fill="#ea7099" stroke="#d85888" stroke-width="0.5" stroke-opacity="0.6"/>
<line x1="374.75" y1="200.00" x2="374.75" y2="198.60" stroke="#d85888" stroke-width="1.1" />
<line x1="369.00" y1="198.60" x2="380.50" y2="198.60" stroke="#d85888" stroke-width="1.1" />
<line x1="329.60" y1="163.10" x2="329.60" y2="205.00" stroke="#2c2c54" stroke-width="0.9" />
<line x1="329.20" y1="204.60" x2="390.00" y2="204.60" stroke="#2c2c54" stroke-width="0.9" />
<line x1="328.40" y1="204.60" x2="329.60" y2="204.60" stroke="#2c2c54" stroke-width="0.8" />
<text x="326.90" y="205.80" font-size="3.2" fill="#333" text-anchor="end" stroke="#333" stroke-width="0.1" >0.0</text>
<line x1="328.40" y1="190.87" x2="329.60" y2="190.87" stroke="#2c2c54" stroke-width="0.8" />
<text x="326.90" y="192.07" font-size="3.2" fill="#333" text-anchor="end" stroke="#333" stroke-width="0.1" >0.5</text>
<line x1="328.40" y1="177.13" x2="329.60" y2="177.13" stroke="#2c2c54" stroke-width="0.8" />
<text x="326.90" y="178.33" font-size="3.2" fill="#333" text-anchor="end" stroke="#333" stroke-width="0.1" >1.0</text>
<line x1="328.40" y1="163.40" x2="329.60" y2="163.40" stroke="#2c2c54" stroke-width="0.8" />
<text x="326.90" y="164.60" font-size="3.2" fill="#333" text-anchor="end" stroke="#333" stroke-width="0.1" >1.5</text>
<line x1="344.85" y1="204.60" x2="344.85" y2="205.80" stroke="#2c2c54" stroke-width="0.8" />
<text x="344.85" y="211.60" font-size="4.1" fill="#333" text-anchor="middle" stroke="#333" stroke-width="0.1" >NC</text>
<line x1="374.90" y1="204.60" x2="374.90" y2="205.80" stroke="#2c2c54" stroke-width="0.8" />
<text x="374.90" y="211.60" font-size="4.1" fill="#333" text-anchor="middle" stroke="#333" stroke-width="0.1" >MCAO</text>
<text x="359.10" y="153.60" font-size="7.0" fill="#b83446" text-anchor="middle" >DCPS</text>
<text x="358.10" y="159.10" font-size="3.3" fill="#666" text-anchor="middle" stroke="#666" stroke-width="0.1" >p=0.0165</text>
<rect x="260.40" y="237.80" width="21.60" height="33.30" fill="#5a8bcb" stroke="#3a62a8" stroke-width="0.5" stroke-opacity="0.6"/>
<line x1="271.00" y1="237.80" x2="271.00" y2="232.10" stroke="#3a62a8" stroke-width="1.1" />
<line x1="265.40" y1="232.10" x2="276.60" y2="232.10" stroke="#3a62a8" stroke-width="1.1" />
<rect x="290.60" y="267.60" width="21.00" height="3.50" fill="#ea7099" stroke="#d85888" stroke-width="0.5" stroke-opacity="0.6"/>
<line x1="301.00" y1="267.60" x2="301.00" y2="266.50" stroke="#d85888" stroke-width="1.1" />
<line x1="295.50" y1="266.50" x2="306.50" y2="266.50" stroke="#d85888" stroke-width="1.1" />
<line x1="255.40" y1="229.20" x2="255.40" y2="271.50" stroke="#2c2c54" stroke-width="0.9" />
<line x1="255.00" y1="271.10" x2="315.00" y2="271.10" stroke="#2c2c54" stroke-width="0.9" />
<line x1="254.20" y1="271.10" x2="255.40" y2="271.10" stroke="#2c2c54" stroke-width="0.8" />
<text x="252.70" y="272.30" font-size="3.2" fill="#333" text-anchor="end" stroke="#333" stroke-width="0.1" >0.0</text>
<line x1="254.20" y1="257.23" x2="255.40" y2="257.23" stroke="#2c2c54" stroke-width="0.8" />
<text x="252.70" y="258.43" font-size="3.2" fill="#333" text-anchor="end" stroke="#333" stroke-width="0.1" >0.5</text>
<line x1="254.20" y1="243.37" x2="255.40" y2="243.37" stroke="#2c2c54" stroke-width="0.8" />
<text x="252.70" y="244.57" font-size="3.2" fill="#333" text-anchor="end" stroke="#333" stroke-width="0.1" >1.0</text>
<line x1="254.20" y1="229.50" x2="255.40" y2="229.50" stroke="#2c2c54" stroke-width="0.8" />
<text x="252.70" y="230.70" font-size="3.2" fill="#333" text-anchor="end" stroke="#333" stroke-width="0.1" >1.5</text>
<line x1="271.20" y1="271.10" x2="271.20" y2="272.30" stroke="#2c2c54" stroke-width="0.8" />
<text x="271.20" y="278.60" font-size="4.1" fill="#333" text-anchor="middle" stroke="#333" stroke-width="0.1" >NC</text>
<line x1="301.10" y1="271.10" x2="301.10" y2="272.30" stroke="#2c2c54" stroke-width="0.8" />
<text x="301.10" y="278.60" font-size="4.1" fill="#333" text-anchor="middle" stroke="#333" stroke-width="0.1" >MCAO</text>
<text x="285.00" y="226.10" font-size="7.2" fill="#222" text-anchor="middle" >EIF4E3</text>
<text x="282.60" y="230.30" font-size="3.3" fill="#666" text-anchor="middle" stroke="#666" stroke-width="0.1" >p=0.0108</text>
<rect x="334.40" y="258.40" width="20.90" height="12.80" fill="#5a8bcb" stroke="#3a62a8" stroke-width="0.5" stroke-opacity="0.6"/>
<line x1="344.30" y1="258.40" x2="344.30" y2="257.20" stroke="#3a62a8" stroke-width="1.1" />
<line x1="339.00" y1="257.20" x2="349.60" y2="257.20" stroke="#3a62a8" stroke-width="1.1" />
<rect x="363.90" y="241.60" width="22.00" height="29.60" fill="#ea7099" stroke="#d85888" stroke-width="0.5" stroke-opacity="0.6"/>
<line x1="374.50" y1="241.60" x2="374.50" y2="239.10" stroke="#d85888" stroke-width="1.1" />
<line x1="369.00" y1="239.10" x2="380.00" y2="239.10" stroke="#d85888" stroke-width="1.1" />
<line x1="329.40" y1="230.10" x2="329.40" y2="271.60" stroke="#2c2c54" stroke-width="0.9" />
<line x1="329.00" y1="271.20" x2="390.00" y2="271.20" stroke="#2c2c54" stroke-width="0.9" />
<line x1="328.20" y1="271.20" x2="329.40" y2="271.20" stroke="#2c2c54" stroke-width="0.8" />
<text x="326.70" y="272.40" font-size="3.2" fill="#333" text-anchor="end" stroke="#333" stroke-width="0.1" >0.0</text>
<line x1="328.20" y1="263.04" x2="329.40" y2="263.04" stroke="#2c2c54" stroke-width="0.8" />
<text x="326.70" y="264.24" font-size="3.2" fill="#333" text-anchor="end" stroke="#333" stroke-width="0.1" >0.5</text>
<line x1="328.20" y1="254.88" x2="329.40" y2="254.88" stroke="#2c2c54" stroke-width="0.8" />
<text x="326.70" y="256.08" font-size="3.2" fill="#333" text-anchor="end" stroke="#333" stroke-width="0.1" >1.0</text>
<line x1="328.20" y1="246.72" x2="329.40" y2="246.72" stroke="#2c2c54" stroke-width="0.8" />
<text x="326.70" y="247.92" font-size="3.2" fill="#333" text-anchor="end" stroke="#333" stroke-width="0.1" >1.5</text>
<line x1="328.20" y1="238.56" x2="329.40" y2="238.56" stroke="#2c2c54" stroke-width="0.8" />
<text x="326.70" y="239.76" font-size="3.2" fill="#333" text-anchor="end" stroke="#333" stroke-width="0.1" >2.0</text>
<line x1="328.20" y1="230.40" x2="329.40" y2="230.40" stroke="#2c2c54" stroke-width="0.8" />
<text x="326.70" y="231.60" font-size="3.2" fill="#333" text-anchor="end" stroke="#333" stroke-width="0.1" >2.5</text>
<line x1="344.85" y1="271.20" x2="344.85" y2="272.40" stroke="#2c2c54" stroke-width="0.8" />
<text x="344.85" y="277.70" font-size="4.1" fill="#333" text-anchor="middle" stroke="#333" stroke-width="0.1" >NC</text>
<line x1="374.90" y1="271.20" x2="374.90" y2="272.40" stroke="#2c2c54" stroke-width="0.8" />
<text x="374.90" y="277.70" font-size="4.1" fill="#333" text-anchor="middle" stroke="#333" stroke-width="0.1" >MCAO</text>
<text x="358.70" y="226.00" font-size="7.0" fill="#222" text-anchor="middle" >NSUN2</text>
<text x="357.80" y="231.00" font-size="3.3" fill="#666" text-anchor="middle" stroke="#666" stroke-width="0.1" >p=0.0003</text>
<text x="1.60" y="164.00" font-size="7.8" fill="#000" text-anchor="start" font-weight="bold" >C</text>
<line x1="37.20" y1="172.00" x2="209.80" y2="172.00" stroke="#333" stroke-width="0.9" />
<line x1="37.20" y1="172.00" x2="37.20" y2="171.10" stroke="#333" stroke-width="0.4" />
<line x1="40.65" y1="172.00" x2="40.65" y2="171.10" stroke="#333" stroke-width="0.4" />
<line x1="44.10" y1="172.00" x2="44.10" y2="171.10" stroke="#333" stroke-width="0.4" />
<line x1="47.56" y1="172.00" x2="47.56" y2="171.10" stroke="#333" stroke-width="0.4" />
<line x1="51.01" y1="172.00" x2="51.01" y2="171.10" stroke="#333" stroke-width="0.4" />
<line x1="54.46" y1="172.00" x2="54.46" y2="171.10" stroke="#333" stroke-width="0.4" />
<line x1="57.91" y1="172.00" x2="57.91" y2="171.10" stroke="#333" stroke-width="0.4" />
<line x1="61.36" y1="172.00" x2="61.36" y2="171.10" stroke="#333" stroke-width="0.4" />
<line x1="64.82" y1="172.00" x2="64.82" y2="171.10" stroke="#333" stroke-width="0.4" />
<line x1="68.27" y1="172.00" x2="68.27" y2="171.10" stroke="#333" stroke-width="0.4" />
<line x1="71.72" y1="172.00" x2="71.72" y2="171.10" stroke="#333" stroke-width="0.4" />
<line x1="75.17" y1="172.00" x2="75.17" y2="171.10" stroke="#333" stroke-width="0.4" />
<line x1="78.62" y1="172.00" x2="78.62" y2="171.10" stroke="#333" stroke-width="0.4" />
<line x1="82.08" y1="172.00" x2="82.08" y2="171.10" stroke="#333" stroke-width="0.4" />
<line x1="85.53" y1="172.00" x2="85.53" y2="171.10" stroke="#333" stroke-width="0.4" />
<line x1="88.98" y1="172.00" x2="88.98" y2="171.10" stroke="#333" stroke-width="0.4" />
<line x1="92.43" y1="172.00" x2="92.43" y2="171.10" stroke="#333" stroke-width="0.4" />
<line x1="95.88" y1="172.00" x2="95.88" y2="171.10" stroke="#333" stroke-width="0.4" />
<line x1="99.34" y1="172.00" x2="99.34" y2="171.10" stroke="#333" stroke-width="0.4" />
<line x1="102.79" y1="172.00" x2="102.79" y2="171.10" stroke="#333" stroke-width="0.4" />
<line x1="106.24" y1="172.00" x2="106.24" y2="171.10" stroke="#333" stroke-width="0.4" />
<line x1="109.69" y1="172.00" x2="109.69" y2="171.10" stroke="#333" stroke-width="0.4" />
<line x1="113.14" y1="172.00" x2="113.14" y2="171.10" stroke="#333" stroke-width="0.4" />
<line x1="116.60" y1="172.00" x2="116.60" y2="171.10" stroke="#333" stroke-width="0.4" />
<line x1="120.05" y1="172.00" x2="120.05" y2="171.10" stroke="#333" stroke-width="0.4" />
<line x1="123.50" y1="172.00" x2="123.50" y2="171.10" stroke="#333" stroke-width="0.4" />
<line x1="126.95" y1="172.00" x2="126.95" y2="171.10" stroke="#333" stroke-width="0.4" />
<line x1="130.40" y1="172.00" x2="130.40" y2="171.10" stroke="#333" stroke-width="0.4" />
<line x1="133.86" y1="172.00" x2="133.86" y2="171.10" stroke="#333" stroke-width="0.4" />
<line x1="137.31" y1="172.00" x2="137.31" y2="171.10" stroke="#333" stroke-width="0.4" />
<line x1="140.76" y1="172.00" x2="140.76" y2="171.10" stroke="#333" stroke-width="0.4" />
<line x1="144.21" y1="172.00" x2="144.21" y2="171.10" stroke="#333" stroke-width="0.4" />
<line x1="147.66" y1="172.00" x2="147.66" y2="171.10" stroke="#333" stroke-width="0.4" />
<line x1="151.12" y1="172.00" x2="151.12" y2="171.10" stroke="#333" stroke-width="0.4" />
<line x1="154.57" y1="172.00" x2="154.57" y2="171.10" stroke="#333" stroke-width="0.4" />
<line x1="158.02" y1="172.00" x2="158.02" y2="171.10" stroke="#333" stroke-width="0.4" />
<line x1="161.47" y1="172.00" x2="161.47" y2="171.10" stroke="#333" stroke-width="0.4" />
<line x1="164.92" y1="172.00" x2="164.92" y2="171.10" stroke="#333" stroke-width="0.4" />
<line x1="168.38" y1="172.00" x2="168.38" y2="171.10" stroke="#333" stroke-width="0.4" />
<line x1="171.83" y1="172.00" x2="171.83" y2="171.10" stroke="#333" stroke-width="0.4" />
<line x1="175.28" y1="172.00" x2="175.28" y2="171.10" stroke="#333" stroke-width="0.4" />
<line x1="178.73" y1="172.00" x2="178.73" y2="171.10" stroke="#333" stroke-width="0.4" />
<line x1="182.18" y1="172.00" x2="182.18" y2="171.10" stroke="#333" stroke-width="0.4" />
<line x1="185.64" y1="172.00" x2="185.64" y2="171.10" stroke="#333" stroke-width="0.4" />
<line x1="189.09" y1="172.00" x2="189.09" y2="171.10" stroke="#333" stroke-width="0.4" />
<line x1="192.54" y1="172.00" x2="192.54" y2="171.10" stroke="#333" stroke-width="0.4" />
<line x1="195.99" y1="172.00" x2="195.99" y2="171.10" stroke="#333" stroke-width="0.4" />
<line x1="199.44" y1="172.00" x2="199.44" y2="171.10" stroke="#333" stroke-width="0.4" />
<line x1="202.90" y1="172.00" x2="202.90" y2="171.10" stroke="#333" stroke-width="0.4" />
<line x1="206.35" y1="172.00" x2="206.35" y2="171.10" stroke="#333" stroke-width="0.4" />
<line x1="209.80" y1="172.00" x2="209.80" y2="171.10" stroke="#333" stroke-width="0.4" />
<line x1="37.20" y1="172.00" x2="37.20" y2="170.50" stroke="#333" stroke-width="0.5" />
<text x="37.20" y="169.50" font-size="3.1" fill="#333" text-anchor="middle" stroke="#333" stroke-width="0.1" >0</text>
<line x1="54.46" y1="172.00" x2="54.46" y2="170.50" stroke="#333" stroke-width="0.5" />
<text x="54.46" y="169.50" font-size="3.1" fill="#333" text-anchor="middle" stroke="#333" stroke-width="0.1" >10</text>
<line x1="71.72" y1="172.00" x2="71.72" y2="170.50" stroke="#333" stroke-width="0.5" />
<text x="71.72" y="169.50" font-size="3.1" fill="#333" text-anchor="middle" stroke="#333" stroke-width="0.1" >20</text>
<line x1="88.98" y1="172.00" x2="88.98" y2="170.50" stroke="#333" stroke-width="0.5" />
<text x="88.98" y="169.50" font-size="3.1" fill="#333" text-anchor="middle" stroke="#333" stroke-width="0.1" >30</text>
<line x1="106.24" y1="172.00" x2="106.24" y2="170.50" stroke="#333" stroke-width="0.5" />
<text x="106.24" y="169.50" font-size="3.1" fill="#333" text-anchor="middle" stroke="#333" stroke-width="0.1" >40</text>
<line x1="123.50" y1="172.00" x2="123.50" y2="170.50" stroke="#333" stroke-width="0.5" />
<text x="123.50" y="169.50" font-size="3.1" fill="#333" text-anchor="middle" stroke="#333" stroke-width="0.1" >50</text>
<line x1="140.76" y1="172.00" x2="140.76" y2="170.50" stroke="#333" stroke-width="0.5" />
<text x="140.76" y="169.50" font-size="3.1" fill="#333" text-anchor="middle" stroke="#333" stroke-width="0.1" >60</text>
<line x1="158.02" y1="172.00" x2="158.02" y2="170.50" stroke="#333" stroke-width="0.5" />
<text x="158.02" y="169.50" font-size="3.1" fill="#333" text-anchor="middle" stroke="#333" stroke-width="0.1" >70</text>
<line x1="175.28" y1="172.00" x2="175.28" y2="170.50" stroke="#333" stroke-width="0.5" />
<text x="175.28" y="169.50" font-size="3.1" fill="#333" text-anchor="middle" stroke="#333" stroke-width="0.1" >80</text>
<line x1="192.54" y1="172.00" x2="192.54" y2="170.50" stroke="#333" stroke-width="0.5" />
<text x="192.54" y="169.50" font-size="3.1" fill="#333" text-anchor="middle" stroke="#333" stroke-width="0.1" >90</text>
<line x1="209.80" y1="172.00" x2="209.80" y2="170.50" stroke="#333" stroke-width="0.5" />
<text x="209.80" y="169.50" font-size="3.1" fill="#333" text-anchor="middle" stroke="#333" stroke-width="0.1" >100</text>
<text x="4.60" y="174.00" font-size="4.4" fill="#3a3a3a" text-anchor="start" stroke="#3a3a3a" stroke-width="0.03" >Points</text>
<line x1="37.40" y1="187.00" x2="195.60" y2="187.00" stroke="#333" stroke-width="0.9" />
<line x1="37.40" y1="187.00" x2="37.40" y2="187.90" stroke="#333" stroke-width="0.4" />
<line x1="42.67" y1="187.00" x2="42.67" y2="187.90" stroke="#333" stroke-width="0.4" />
<line x1="47.95" y1="187.00" x2="47.95" y2="187.90" stroke="#333" stroke-width="0.4" />
<line x1="53.22" y1="187.00" x2="53.22" y2="187.90" stroke="#333" stroke-width="0.4" />
<line x1="58.49" y1="187.00" x2="58.49" y2="187.90" stroke="#333" stroke-width="0.4" />
<line x1="63.77" y1="187.00" x2="63.77" y2="187.90" stroke="#333" stroke-width="0.4" />
<line x1="69.04" y1="187.00" x2="69.04" y2="187.90" stroke="#333" stroke-width="0.4" />
<line x1="74.31" y1="187.00" x2="74.31" y2="187.90" stroke="#333" stroke-width="0.4" />
<line x1="79.59" y1="187.00" x2="79.59" y2="187.90" stroke="#333" stroke-width="0.4" />
<line x1="84.86" y1="187.00" x2="84.86" y2="187.90" stroke="#333" stroke-width="0.4" />
<line x1="90.13" y1="187.00" x2="90.13" y2="187.90" stroke="#333" stroke-width="0.4" />
<line x1="95.41" y1="187.00" x2="95.41" y2="187.90" stroke="#333" stroke-width="0.4" />
<line x1="100.68" y1="187.00" x2="100.68" y2="187.90" stroke="#333" stroke-width="0.4" />
<line x1="105.95" y1="187.00" x2="105.95" y2="187.90" stroke="#333" stroke-width="0.4" />
<line x1="111.23" y1="187.00" x2="111.23" y2="187.90" stroke="#333" stroke-width="0.4" />
<line x1="116.50" y1="187.00" x2="116.50" y2="187.90" stroke="#333" stroke-width="0.4" />
<line x1="121.77" y1="187.00" x2="121.77" y2="187.90" stroke="#333" stroke-width="0.4" />
<line x1="127.05" y1="187.00" x2="127.05" y2="187.90" stroke="#333" stroke-width="0.4" />
<line x1="132.32" y1="187.00" x2="132.32" y2="187.90" stroke="#333" stroke-width="0.4" />
<line x1="137.59" y1="187.00" x2="137.59" y2="187.90" stroke="#333" stroke-width="0.4" />
<line x1="142.87" y1="187.00" x2="142.87" y2="187.90" stroke="#333" stroke-width="0.4" />
<line x1="148.14" y1="187.00" x2="148.14" y2="187.90" stroke="#333" stroke-width="0.4" />
<line x1="153.41" y1="187.00" x2="153.41" y2="187.90" stroke="#333" stroke-width="0.4" />
<line x1="158.69" y1="187.00" x2="158.69" y2="187.90" stroke="#333" stroke-width="0.4" />
<line x1="163.96" y1="187.00" x2="163.96" y2="187.90" stroke="#333" stroke-width="0.4" />
<line x1="169.23" y1="187.00" x2="169.23" y2="187.90" stroke="#333" stroke-width="0.4" />
<line x1="174.51" y1="187.00" x2="174.51" y2="187.90" stroke="#333" stroke-width="0.4" />
<line x1="179.78" y1="187.00" x2="179.78" y2="187.90" stroke="#333" stroke-width="0.4" />
<line x1="185.05" y1="187.00" x2="185.05" y2="187.90" stroke="#333" stroke-width="0.4" />
<line x1="190.33" y1="187.00" x2="190.33" y2="187.90" stroke="#333" stroke-width="0.4" />
<line x1="195.60" y1="187.00" x2="195.60" y2="187.90" stroke="#333" stroke-width="0.4" />
<line x1="37.40" y1="187.00" x2="37.40" y2="188.50" stroke="#333" stroke-width="0.5" />
<text x="37.40" y="192.90" font-size="3.1" fill="#333" text-anchor="middle" stroke="#333" stroke-width="0.1" >6.8</text>
<line x1="47.95" y1="187.00" x2="47.95" y2="188.50" stroke="#333" stroke-width="0.5" />
<text x="47.95" y="192.90" font-size="3.1" fill="#333" text-anchor="middle" stroke="#333" stroke-width="0.1" >6.7</text>
<line x1="58.49" y1="187.00" x2="58.49" y2="188.50" stroke="#333" stroke-width="0.5" />
<text x="58.49" y="192.90" font-size="3.1" fill="#333" text-anchor="middle" stroke="#333" stroke-width="0.1" >6.6</text>
<line x1="69.04" y1="187.00" x2="69.04" y2="188.50" stroke="#333" stroke-width="0.5" />
<text x="69.04" y="192.90" font-size="3.1" fill="#333" text-anchor="middle" stroke="#333" stroke-width="0.1" >6.5</text>
<line x1="79.59" y1="187.00" x2="79.59" y2="188.50" stroke="#333" stroke-width="0.5" />
<text x="79.59" y="192.90" font-size="3.1" fill="#333" text-anchor="middle" stroke="#333" stroke-width="0.1" >6.4</text>
<line x1="90.13" y1="187.00" x2="90.13" y2="188.50" stroke="#333" stroke-width="0.5" />
<text x="90.13" y="192.90" font-size="3.1" fill="#333" text-anchor="middle" stroke="#333" stroke-width="0.1" >6.3</text>
<line x1="100.68" y1="187.00" x2="100.68" y2="188.50" stroke="#333" stroke-width="0.5" />
<text x="100.68" y="192.90" font-size="3.1" fill="#333" text-anchor="middle" stroke="#333" stroke-width="0.1" >6.2</text>
<line x1="111.23" y1="187.00" x2="111.23" y2="188.50" stroke="#333" stroke-width="0.5" />
<text x="111.23" y="192.90" font-size="3.1" fill="#333" text-anchor="middle" stroke="#333" stroke-width="0.1" >6.1</text>
<line x1="121.77" y1="187.00" x2="121.77" y2="188.50" stroke="#333" stroke-width="0.5" />
<text x="121.77" y="192.90" font-size="3.1" fill="#333" text-anchor="middle" stroke="#333" stroke-width="0.1" >6</text>
<line x1="132.32" y1="187.00" x2="132.32" y2="188.50" stroke="#333" stroke-width="0.5" />
<text x="132.32" y="192.90" font-size="3.1" fill="#333" text-anchor="middle" stroke="#333" stroke-width="0.1" >5.9</text>
<line x1="142.87" y1="187.00" x2="142.87" y2="188.50" stroke="#333" stroke-width="0.5" />
<text x="142.87" y="192.90" font-size="3.1" fill="#333" text-anchor="middle" stroke="#333" stroke-width="0.1" >5.8</text>
<line x1="153.41" y1="187.00" x2="153.41" y2="188.50" stroke="#333" stroke-width="0.5" />
<text x="153.41" y="192.90" font-size="3.1" fill="#333" text-anchor="middle" stroke="#333" stroke-width="0.1" >5.7</text>
<line x1="163.96" y1="187.00" x2="163.96" y2="188.50" stroke="#333" stroke-width="0.5" />
<text x="163.96" y="192.90" font-size="3.1" fill="#333" text-anchor="middle" stroke="#333" stroke-width="0.1" >5.6</text>
<line x1="174.51" y1="187.00" x2="174.51" y2="188.50" stroke="#333" stroke-width="0.5" />
<text x="174.51" y="192.90" font-size="3.1" fill="#333" text-anchor="middle" stroke="#333" stroke-width="0.1" >5.5</text>
<line x1="185.05" y1="187.00" x2="185.05" y2="188.50" stroke="#333" stroke-width="0.5" />
<text x="185.05" y="192.90" font-size="3.1" fill="#333" text-anchor="middle" stroke="#333" stroke-width="0.1" >5.4</text>
<line x1="195.60" y1="187.00" x2="195.60" y2="188.50" stroke="#333" stroke-width="0.5" />
<text x="195.60" y="192.90" font-size="3.1" fill="#333" text-anchor="middle" stroke="#333" stroke-width="0.1" >5.3</text>
<text x="4.60" y="188.90" font-size="4.4" fill="#3a3a3a" text-anchor="start" stroke="#3a3a3a" stroke-width="0.03" >EIF3D</text>
<line x1="37.40" y1="202.00" x2="177.30" y2="202.00" stroke="#333" stroke-width="0.9" />
<line x1="37.40" y1="202.00" x2="37.40" y2="202.90" stroke="#333" stroke-width="0.4" />
<line x1="45.17" y1="202.00" x2="45.17" y2="202.90" stroke="#333" stroke-width="0.4" />
<line x1="52.94" y1="202.00" x2="52.94" y2="202.90" stroke="#333" stroke-width="0.4" />
<line x1="60.72" y1="202.00" x2="60.72" y2="202.90" stroke="#333" stroke-width="0.4" />
<line x1="68.49" y1="202.00" x2="68.49" y2="202.90" stroke="#333" stroke-width="0.4" />
<line x1="76.26" y1="202.00" x2="76.26" y2="202.90" stroke="#333" stroke-width="0.4" />
<line x1="84.03" y1="202.00" x2="84.03" y2="202.90" stroke="#333" stroke-width="0.4" />
<line x1="91.81" y1="202.00" x2="91.81" y2="202.90" stroke="#333" stroke-width="0.4" />
<line x1="99.58" y1="202.00" x2="99.58" y2="202.90" stroke="#333" stroke-width="0.4" />
<line x1="107.35" y1="202.00" x2="107.35" y2="202.90" stroke="#333" stroke-width="0.4" />
<line x1="115.12" y1="202.00" x2="115.12" y2="202.90" stroke="#333" stroke-width="0.4" />
<line x1="122.89" y1="202.00" x2="122.89" y2="202.90" stroke="#333" stroke-width="0.4" />
<line x1="130.67" y1="202.00" x2="130.67" y2="202.90" stroke="#333" stroke-width="0.4" />
<line x1="138.44" y1="202.00" x2="138.44" y2="202.90" stroke="#333" stroke-width="0.4" />
<line x1="146.21" y1="202.00" x2="146.21" y2="202.90" stroke="#333" stroke-width="0.4" />
<line x1="153.98" y1="202.00" x2="153.98" y2="202.90" stroke="#333" stroke-width="0.4" />
<line x1="161.76" y1="202.00" x2="161.76" y2="202.90" stroke="#333" stroke-width="0.4" />
<line x1="169.53" y1="202.00" x2="169.53" y2="202.90" stroke="#333" stroke-width="0.4" />
<line x1="177.30" y1="202.00" x2="177.30" y2="202.90" stroke="#333" stroke-width="0.4" />
<line x1="37.40" y1="202.00" x2="37.40" y2="203.50" stroke="#333" stroke-width="0.5" />
<text x="37.40" y="207.90" font-size="3.1" fill="#333" text-anchor="middle" stroke="#333" stroke-width="0.1" >7.2</text>
<line x1="52.94" y1="202.00" x2="52.94" y2="203.50" stroke="#333" stroke-width="0.5" />
<text x="52.94" y="207.90" font-size="3.1" fill="#333" text-anchor="middle" stroke="#333" stroke-width="0.1" >7</text>
<line x1="68.49" y1="202.00" x2="68.49" y2="203.50" stroke="#333" stroke-width="0.5" />
<text x="68.49" y="207.90" font-size="3.1" fill="#333" text-anchor="middle" stroke="#333" stroke-width="0.1" >6.8</text>
<line x1="84.03" y1="202.00" x2="84.03" y2="203.50" stroke="#333" stroke-width="0.5" />
<text x="84.03" y="207.90" font-size="3.1" fill="#333" text-anchor="middle" stroke="#333" stroke-width="0.1" >6.6</text>
<line x1="99.58" y1="202.00" x2="99.58" y2="203.50" stroke="#333" stroke-width="0.5" />
<text x="99.58" y="207.90" font-size="3.1" fill="#333" text-anchor="middle" stroke="#333" stroke-width="0.1" >6.4</text>
<line x1="115.12" y1="202.00" x2="115.12" y2="203.50" stroke="#333" stroke-width="0.5" />
<text x="115.12" y="207.90" font-size="3.1" fill="#333" text-anchor="middle" stroke="#333" stroke-width="0.1" >6.2</text>
<line x1="130.67" y1="202.00" x2="130.67" y2="203.50" stroke="#333" stroke-width="0.5" />
<text x="130.67" y="207.90" font-size="3.1" fill="#333" text-anchor="middle" stroke="#333" stroke-width="0.1" >6</text>
<line x1="146.21" y1="202.00" x2="146.21" y2="203.50" stroke="#333" stroke-width="0.5" />
<text x="146.21" y="207.90" font-size="3.1" fill="#333" text-anchor="middle" stroke="#333" stroke-width="0.1" >5.8</text>
<line x1="161.76" y1="202.00" x2="161.76" y2="203.50" stroke="#333" stroke-width="0.5" />
<text x="161.76" y="207.90" font-size="3.1" fill="#333" text-anchor="middle" stroke="#333" stroke-width="0.1" >5.6</text>
<line x1="177.30" y1="202.00" x2="177.30" y2="203.50" stroke="#333" stroke-width="0.5" />
<text x="177.30" y="207.90" font-size="3.1" fill="#333" text-anchor="middle" stroke="#333" stroke-width="0.1" >5.4</text>
<text x="4.60" y="204.10" font-size="4.4" fill="#3a3a3a" text-anchor="start" stroke="#3a3a3a" stroke-width="0.03" >CYFIP2</text>
<line x1="37.20" y1="216.30" x2="210.20" y2="216.30" stroke="#333" stroke-width="0.9" />
<line x1="37.20" y1="216.30" x2="37.20" y2="217.20" stroke="#333" stroke-width="0.4" />
<line x1="46.81" y1="216.30" x2="46.81" y2="217.20" stroke="#333" stroke-width="0.4" />
<line x1="56.42" y1="216.30" x2="56.42" y2="217.20" stroke="#333" stroke-width="0.4" />
<line x1="66.03" y1="216.30" x2="66.03" y2="217.20" stroke="#333" stroke-width="0.4" />
<line x1="75.64" y1="216.30" x2="75.64" y2="217.20" stroke="#333" stroke-width="0.4" />
<line x1="85.26" y1="216.30" x2="85.26" y2="217.20" stroke="#333" stroke-width="0.4" />
<line x1="94.87" y1="216.30" x2="94.87" y2="217.20" stroke="#333" stroke-width="0.4" />
<line x1="104.48" y1="216.30" x2="104.48" y2="217.20" stroke="#333" stroke-width="0.4" />
<line x1="114.09" y1="216.30" x2="114.09" y2="217.20" stroke="#333" stroke-width="0.4" />
<line x1="123.70" y1="216.30" x2="123.70" y2="217.20" stroke="#333" stroke-width="0.4" />
<line x1="133.31" y1="216.30" x2="133.31" y2="217.20" stroke="#333" stroke-width="0.4" />
<line x1="142.92" y1="216.30" x2="142.92" y2="217.20" stroke="#333" stroke-width="0.4" />
<line x1="152.53" y1="216.30" x2="152.53" y2="217.20" stroke="#333" stroke-width="0.4" />
<line x1="162.14" y1="216.30" x2="162.14" y2="217.20" stroke="#333" stroke-width="0.4" />
<line x1="171.76" y1="216.30" x2="171.76" y2="217.20" stroke="#333" stroke-width="0.4" />
<line x1="181.37" y1="216.30" x2="181.37" y2="217.20" stroke="#333" stroke-width="0.4" />
<line x1="190.98" y1="216.30" x2="190.98" y2="217.20" stroke="#333" stroke-width="0.4" />
<line x1="200.59" y1="216.30" x2="200.59" y2="217.20" stroke="#333" stroke-width="0.4" />
<line x1="210.20" y1="216.30" x2="210.20" y2="217.20" stroke="#333" stroke-width="0.4" />
<line x1="37.20" y1="216.30" x2="37.20" y2="217.80" stroke="#333" stroke-width="0.5" />
<text x="37.20" y="222.20" font-size="3.1" fill="#333" text-anchor="middle" stroke="#333" stroke-width="0.1" >5.6</text>
<line x1="56.42" y1="216.30" x2="56.42" y2="217.80" stroke="#333" stroke-width="0.5" />
<text x="56.42" y="222.20" font-size="3.1" fill="#333" text-anchor="middle" stroke="#333" stroke-width="0.1" >5.4</text>
<line x1="75.64" y1="216.30" x2="75.64" y2="217.80" stroke="#333" stroke-width="0.5" />
<text x="75.64" y="222.20" font-size="3.1" fill="#333" text-anchor="middle" stroke="#333" stroke-width="0.1" >5.2</text>
<line x1="94.87" y1="216.30" x2="94.87" y2="217.80" stroke="#333" stroke-width="0.5" />
<text x="94.87" y="222.20" font-size="3.1" fill="#333" text-anchor="middle" stroke="#333" stroke-width="0.1" >5</text>
<line x1="114.09" y1="216.30" x2="114.09" y2="217.80" stroke="#333" stroke-width="0.5" />
<text x="114.09" y="222.20" font-size="3.1" fill="#333" text-anchor="middle" stroke="#333" stroke-width="0.1" >4.8</text>
<line x1="133.31" y1="216.30" x2="133.31" y2="217.80" stroke="#333" stroke-width="0.5" />
<text x="133.31" y="222.20" font-size="3.1" fill="#333" text-anchor="middle" stroke="#333" stroke-width="0.1" >4.6</text>
<line x1="152.53" y1="216.30" x2="152.53" y2="217.80" stroke="#333" stroke-width="0.5" />
<text x="152.53" y="222.20" font-size="3.1" fill="#333" text-anchor="middle" stroke="#333" stroke-width="0.1" >4.4</text>
<line x1="171.76" y1="216.30" x2="171.76" y2="217.80" stroke="#333" stroke-width="0.5" />
<text x="171.76" y="222.20" font-size="3.1" fill="#333" text-anchor="middle" stroke="#333" stroke-width="0.1" >4.2</text>
<line x1="190.98" y1="216.30" x2="190.98" y2="217.80" stroke="#333" stroke-width="0.5" />
<text x="190.98" y="222.20" font-size="3.1" fill="#333" text-anchor="middle" stroke="#333" stroke-width="0.1" >4</text>
<line x1="210.20" y1="216.30" x2="210.20" y2="217.80" stroke="#333" stroke-width="0.5" />
<text x="210.20" y="222.20" font-size="3.1" fill="#333" text-anchor="middle" stroke="#333" stroke-width="0.1" >3.8</text>
<text x="4.60" y="218.50" font-size="4.4" fill="#3a3a3a" text-anchor="start" stroke="#3a3a3a" stroke-width="0.03" >NCBP2</text>
<line x1="37.20" y1="230.90" x2="124.80" y2="230.90" stroke="#333" stroke-width="0.9" />
<line x1="37.20" y1="230.90" x2="37.20" y2="231.80" stroke="#333" stroke-width="0.4" />
<line x1="42.07" y1="230.90" x2="42.07" y2="231.80" stroke="#333" stroke-width="0.4" />
<line x1="46.93" y1="230.90" x2="46.93" y2="231.80" stroke="#333" stroke-width="0.4" />
<line x1="51.80" y1="230.90" x2="51.80" y2="231.80" stroke="#333" stroke-width="0.4" />
<line x1="56.67" y1="230.90" x2="56.67" y2="231.80" stroke="#333" stroke-width="0.4" />
<line x1="61.53" y1="230.90" x2="61.53" y2="231.80" stroke="#333" stroke-width="0.4" />
<line x1="66.40" y1="230.90" x2="66.40" y2="231.80" stroke="#333" stroke-width="0.4" />
<line x1="71.27" y1="230.90" x2="71.27" y2="231.80" stroke="#333" stroke-width="0.4" />
<line x1="76.13" y1="230.90" x2="76.13" y2="231.80" stroke="#333" stroke-width="0.4" />
<line x1="81.00" y1="230.90" x2="81.00" y2="231.80" stroke="#333" stroke-width="0.4" />
<line x1="85.87" y1="230.90" x2="85.87" y2="231.80" stroke="#333" stroke-width="0.4" />
<line x1="90.73" y1="230.90" x2="90.73" y2="231.80" stroke="#333" stroke-width="0.4" />
<line x1="95.60" y1="230.90" x2="95.60" y2="231.80" stroke="#333" stroke-width="0.4" />
<line x1="100.47" y1="230.90" x2="100.47" y2="231.80" stroke="#333" stroke-width="0.4" />
<line x1="105.33" y1="230.90" x2="105.33" y2="231.80" stroke="#333" stroke-width="0.4" />
<line x1="110.20" y1="230.90" x2="110.20" y2="231.80" stroke="#333" stroke-width="0.4" />
<line x1="115.07" y1="230.90" x2="115.07" y2="231.80" stroke="#333" stroke-width="0.4" />
<line x1="119.93" y1="230.90" x2="119.93" y2="231.80" stroke="#333" stroke-width="0.4" />
<line x1="124.80" y1="230.90" x2="124.80" y2="231.80" stroke="#333" stroke-width="0.4" />
<line x1="37.20" y1="230.90" x2="37.20" y2="232.40" stroke="#333" stroke-width="0.5" />
<text x="37.20" y="236.80" font-size="3.1" fill="#333" text-anchor="middle" stroke="#333" stroke-width="0.1" >4</text>
<line x1="46.93" y1="230.90" x2="46.93" y2="232.40" stroke="#333" stroke-width="0.5" />
<text x="46.93" y="236.80" font-size="3.1" fill="#333" text-anchor="middle" stroke="#333" stroke-width="0.1" >3.8</text>
<line x1="56.67" y1="230.90" x2="56.67" y2="232.40" stroke="#333" stroke-width="0.5" />
<text x="56.67" y="236.80" font-size="3.1" fill="#333" text-anchor="middle" stroke="#333" stroke-width="0.1" >3.6</text>
<line x1="66.40" y1="230.90" x2="66.40" y2="232.40" stroke="#333" stroke-width="0.5" />
<text x="66.40" y="236.80" font-size="3.1" fill="#333" text-anchor="middle" stroke="#333" stroke-width="0.1" >3.4</text>
<line x1="76.13" y1="230.90" x2="76.13" y2="232.40" stroke="#333" stroke-width="0.5" />
<text x="76.13" y="236.80" font-size="3.1" fill="#333" text-anchor="middle" stroke="#333" stroke-width="0.1" >3.2</text>
<line x1="85.87" y1="230.90" x2="85.87" y2="232.40" stroke="#333" stroke-width="0.5" />
<text x="85.87" y="236.80" font-size="3.1" fill="#333" text-anchor="middle" stroke="#333" stroke-width="0.1" >3</text>
<line x1="95.60" y1="230.90" x2="95.60" y2="232.40" stroke="#333" stroke-width="0.5" />
<text x="95.60" y="236.80" font-size="3.1" fill="#333" text-anchor="middle" stroke="#333" stroke-width="0.1" >2.8</text>
<line x1="105.33" y1="230.90" x2="105.33" y2="232.40" stroke="#333" stroke-width="0.5" />
<text x="105.33" y="236.80" font-size="3.1" fill="#333" text-anchor="middle" stroke="#333" stroke-width="0.1" >2.6</text>
<line x1="115.07" y1="230.90" x2="115.07" y2="232.40" stroke="#333" stroke-width="0.5" />
<text x="115.07" y="236.80" font-size="3.1" fill="#333" text-anchor="middle" stroke="#333" stroke-width="0.1" >2.4</text>
<line x1="124.80" y1="230.90" x2="124.80" y2="232.40" stroke="#333" stroke-width="0.5" />
<text x="124.80" y="236.80" font-size="3.1" fill="#333" text-anchor="middle" stroke="#333" stroke-width="0.1" >2.2</text>
<text x="4.60" y="232.90" font-size="4.4" fill="#3a3a3a" text-anchor="start" stroke="#3a3a3a" stroke-width="0.03" >DCPS</text>
<line x1="37.20" y1="245.20" x2="96.70" y2="245.20" stroke="#333" stroke-width="0.9" />
<line x1="37.20" y1="245.20" x2="37.20" y2="246.10" stroke="#333" stroke-width="0.4" />
<line x1="40.49" y1="245.20" x2="40.49" y2="246.10" stroke="#333" stroke-width="0.4" />
<line x1="43.78" y1="245.20" x2="43.78" y2="246.10" stroke="#333" stroke-width="0.4" />
<line x1="47.06" y1="245.20" x2="47.06" y2="246.10" stroke="#333" stroke-width="0.4" />
<line x1="50.35" y1="245.20" x2="50.35" y2="246.10" stroke="#333" stroke-width="0.4" />
<line x1="53.64" y1="245.20" x2="53.64" y2="246.10" stroke="#333" stroke-width="0.4" />
<line x1="56.92" y1="245.20" x2="56.92" y2="246.10" stroke="#333" stroke-width="0.4" />
<line x1="60.21" y1="245.20" x2="60.21" y2="246.10" stroke="#333" stroke-width="0.4" />
<line x1="63.50" y1="245.20" x2="63.50" y2="246.10" stroke="#333" stroke-width="0.4" />
<line x1="66.79" y1="245.20" x2="66.79" y2="246.10" stroke="#333" stroke-width="0.4" />
<line x1="70.08" y1="245.20" x2="70.08" y2="246.10" stroke="#333" stroke-width="0.4" />
<line x1="73.36" y1="245.20" x2="73.36" y2="246.10" stroke="#333" stroke-width="0.4" />
<line x1="76.65" y1="245.20" x2="76.65" y2="246.10" stroke="#333" stroke-width="0.4" />
<line x1="79.94" y1="245.20" x2="79.94" y2="246.10" stroke="#333" stroke-width="0.4" />
<line x1="83.22" y1="245.20" x2="83.22" y2="246.10" stroke="#333" stroke-width="0.4" />
<line x1="86.51" y1="245.20" x2="86.51" y2="246.10" stroke="#333" stroke-width="0.4" />
<line x1="89.80" y1="245.20" x2="89.80" y2="246.10" stroke="#333" stroke-width="0.4" />
<line x1="93.09" y1="245.20" x2="93.09" y2="246.10" stroke="#333" stroke-width="0.4" />
<line x1="37.20" y1="245.20" x2="37.20" y2="246.70" stroke="#333" stroke-width="0.5" />
<text x="37.20" y="251.10" font-size="3.1" fill="#333" text-anchor="middle" stroke="#333" stroke-width="0.1" >3.2</text>
<line x1="50.35" y1="245.20" x2="50.35" y2="246.70" stroke="#333" stroke-width="0.5" />
<text x="50.35" y="251.10" font-size="3.1" fill="#333" text-anchor="middle" stroke="#333" stroke-width="0.1" >2.8</text>
<line x1="63.50" y1="245.20" x2="63.50" y2="246.70" stroke="#333" stroke-width="0.5" />
<text x="63.50" y="251.10" font-size="3.1" fill="#333" text-anchor="middle" stroke="#333" stroke-width="0.1" >2.4</text>
<line x1="76.65" y1="245.20" x2="76.65" y2="246.70" stroke="#333" stroke-width="0.5" />
<text x="76.65" y="251.10" font-size="3.1" fill="#333" text-anchor="middle" stroke="#333" stroke-width="0.1" >2</text>
<line x1="89.80" y1="245.20" x2="89.80" y2="246.70" stroke="#333" stroke-width="0.5" />
<text x="89.80" y="251.10" font-size="3.1" fill="#333" text-anchor="middle" stroke="#333" stroke-width="0.1" >1.6</text>
<text x="4.60" y="247.20" font-size="4.4" fill="#3a3a3a" text-anchor="start" stroke="#3a3a3a" stroke-width="0.03" >NUDT1</text>
<line x1="37.60" y1="260.40" x2="210.00" y2="260.40" stroke="#333" stroke-width="0.9" />
<line x1="37.60" y1="260.40" x2="37.60" y2="261.30" stroke="#333" stroke-width="0.4" />
<line x1="42.53" y1="260.40" x2="42.53" y2="261.30" stroke="#333" stroke-width="0.4" />
<line x1="47.45" y1="260.40" x2="47.45" y2="261.30" stroke="#333" stroke-width="0.4" />
<line x1="52.38" y1="260.40" x2="52.38" y2="261.30" stroke="#333" stroke-width="0.4" />
<line x1="57.30" y1="260.40" x2="57.30" y2="261.30" stroke="#333" stroke-width="0.4" />
<line x1="62.23" y1="260.40" x2="62.23" y2="261.30" stroke="#333" stroke-width="0.4" />
<line x1="67.15" y1="260.40" x2="67.15" y2="261.30" stroke="#333" stroke-width="0.4" />
<line x1="72.08" y1="260.40" x2="72.08" y2="261.30" stroke="#333" stroke-width="0.4" />
<line x1="77.01" y1="260.40" x2="77.01" y2="261.30" stroke="#333" stroke-width="0.4" />
<line x1="81.93" y1="260.40" x2="81.93" y2="261.30" stroke="#333" stroke-width="0.4" />
<line x1="86.86" y1="260.40" x2="86.86" y2="261.30" stroke="#333" stroke-width="0.4" />
<line x1="91.78" y1="260.40" x2="91.78" y2="261.30" stroke="#333" stroke-width="0.4" />
<line x1="96.71" y1="260.40" x2="96.71" y2="261.30" stroke="#333" stroke-width="0.4" />
<line x1="101.63" y1="260.40" x2="101.63" y2="261.30" stroke="#333" stroke-width="0.4" />
<line x1="106.56" y1="260.40" x2="106.56" y2="261.30" stroke="#333" stroke-width="0.4" />
<line x1="111.49" y1="260.40" x2="111.49" y2="261.30" stroke="#333" stroke-width="0.4" />
<line x1="116.41" y1="260.40" x2="116.41" y2="261.30" stroke="#333" stroke-width="0.4" />
<line x1="121.34" y1="260.40" x2="121.34" y2="261.30" stroke="#333" stroke-width="0.4" />
<line x1="126.26" y1="260.40" x2="126.26" y2="261.30" stroke="#333" stroke-width="0.4" />
<line x1="131.19" y1="260.40" x2="131.19" y2="261.30" stroke="#333" stroke-width="0.4" />
<line x1="136.11" y1="260.40" x2="136.11" y2="261.30" stroke="#333" stroke-width="0.4" />
<line x1="141.04" y1="260.40" x2="141.04" y2="261.30" stroke="#333" stroke-width="0.4" />
<line x1="145.97" y1="260.40" x2="145.97" y2="261.30" stroke="#333" stroke-width="0.4" />
<line x1="150.89" y1="260.40" x2="150.89" y2="261.30" stroke="#333" stroke-width="0.4" />
<line x1="155.82" y1="260.40" x2="155.82" y2="261.30" stroke="#333" stroke-width="0.4" />
<line x1="160.74" y1="260.40" x2="160.74" y2="261.30" stroke="#333" stroke-width="0.4" />
<line x1="165.67" y1="260.40" x2="165.67" y2="261.30" stroke="#333" stroke-width="0.4" />
<line x1="170.59" y1="260.40" x2="170.59" y2="261.30" stroke="#333" stroke-width="0.4" />
<line x1="175.52" y1="260.40" x2="175.52" y2="261.30" stroke="#333" stroke-width="0.4" />
<line x1="180.45" y1="260.40" x2="180.45" y2="261.30" stroke="#333" stroke-width="0.4" />
<line x1="185.37" y1="260.40" x2="185.37" y2="261.30" stroke="#333" stroke-width="0.4" />
<line x1="190.30" y1="260.40" x2="190.30" y2="261.30" stroke="#333" stroke-width="0.4" />
<line x1="195.22" y1="260.40" x2="195.22" y2="261.30" stroke="#333" stroke-width="0.4" />
<line x1="200.15" y1="260.40" x2="200.15" y2="261.30" stroke="#333" stroke-width="0.4" />
<line x1="205.07" y1="260.40" x2="205.07" y2="261.30" stroke="#333" stroke-width="0.4" />
<line x1="210.00" y1="260.40" x2="210.00" y2="261.30" stroke="#333" stroke-width="0.4" />
<line x1="37.60" y1="260.40" x2="37.60" y2="261.90" stroke="#333" stroke-width="0.5" />
<text x="37.60" y="266.30" font-size="3.1" fill="#333" text-anchor="middle" stroke="#333" stroke-width="0.1" >0</text>
<line x1="62.23" y1="260.40" x2="62.23" y2="261.90" stroke="#333" stroke-width="0.5" />
<text x="62.23" y="266.30" font-size="3.1" fill="#333" text-anchor="middle" stroke="#333" stroke-width="0.1" >50</text>
<line x1="86.86" y1="260.40" x2="86.86" y2="261.90" stroke="#333" stroke-width="0.5" />
<text x="86.86" y="266.30" font-size="3.1" fill="#333" text-anchor="middle" stroke="#333" stroke-width="0.1" >100</text>
<line x1="111.49" y1="260.40" x2="111.49" y2="261.90" stroke="#333" stroke-width="0.5" />
<text x="111.49" y="266.30" font-size="3.1" fill="#333" text-anchor="middle" stroke="#333" stroke-width="0.1" >150</text>
<line x1="136.11" y1="260.40" x2="136.11" y2="261.90" stroke="#333" stroke-width="0.5" />
<text x="136.11" y="266.30" font-size="3.1" fill="#333" text-anchor="middle" stroke="#333" stroke-width="0.1" >200</text>
<line x1="160.74" y1="260.40" x2="160.74" y2="261.90" stroke="#333" stroke-width="0.5" />
<text x="160.74" y="266.30" font-size="3.1" fill="#333" text-anchor="middle" stroke="#333" stroke-width="0.1" >250</text>
<line x1="185.37" y1="260.40" x2="185.37" y2="261.90" stroke="#333" stroke-width="0.5" />
<text x="185.37" y="266.30" font-size="3.1" fill="#333" text-anchor="middle" stroke="#333" stroke-width="0.1" >300</text>
<line x1="210.00" y1="260.40" x2="210.00" y2="261.90" stroke="#333" stroke-width="0.5" />
<text x="210.00" y="266.30" font-size="3.1" fill="#333" text-anchor="middle" stroke="#333" stroke-width="0.1" >350</text>
<text x="4.60" y="262.60" font-size="4.4" fill="#3a3a3a" text-anchor="start" stroke="#3a3a3a" stroke-width="0.03" >Total Points</text>
<line x1="96.10" y1="274.90" x2="161.20" y2="274.90" stroke="#333" stroke-width="0.9" />
<line x1="104.00" y1="274.90" x2="104.00" y2="275.80" stroke="#333" stroke-width="0.4" />
<line x1="113.40" y1="274.90" x2="113.40" y2="275.80" stroke="#333" stroke-width="0.4" />
<line x1="121.50" y1="274.90" x2="121.50" y2="275.80" stroke="#333" stroke-width="0.4" />
<line x1="131.00" y1="274.90" x2="131.00" y2="275.80" stroke="#333" stroke-width="0.4" />
<line x1="96.10" y1="274.90" x2="96.10" y2="276.40" stroke="#333" stroke-width="0.5" />
<text x="96.10" y="280.80" font-size="3.1" fill="#333" text-anchor="middle" stroke="#333" stroke-width="0.1" >0.1</text>
<line x1="109.30" y1="274.90" x2="109.30" y2="276.40" stroke="#333" stroke-width="0.5" />
<text x="109.30" y="280.80" font-size="3.1" fill="#333" text-anchor="middle" stroke="#333" stroke-width="0.1" >0.3</text>
<line x1="117.50" y1="274.90" x2="117.50" y2="276.40" stroke="#333" stroke-width="0.5" />
<text x="117.50" y="280.80" font-size="3.1" fill="#333" text-anchor="middle" stroke="#333" stroke-width="0.1" >0.5</text>
<line x1="125.60" y1="274.90" x2="125.60" y2="276.40" stroke="#333" stroke-width="0.5" />
<text x="125.60" y="280.80" font-size="3.1" fill="#333" text-anchor="middle" stroke="#333" stroke-width="0.1" >0.7</text>
<line x1="138.90" y1="274.90" x2="138.90" y2="276.40" stroke="#333" stroke-width="0.5" />
<text x="138.90" y="280.80" font-size="3.1" fill="#333" text-anchor="middle" stroke="#333" stroke-width="0.1" >0.9</text>
<line x1="161.20" y1="274.90" x2="161.20" y2="276.40" stroke="#333" stroke-width="0.5" />
<text x="161.20" y="280.80" font-size="3.1" fill="#333" text-anchor="middle" stroke="#333" stroke-width="0.1" >0.99</text>
<text x="4.60" y="276.80" font-size="4.4" fill="#3a3a3a" text-anchor="start" stroke="#3a3a3a" stroke-width="0.03" >Risk of IS</text>
<text x="0.50" y="306.90" font-size="7.8" fill="#000" text-anchor="start" font-weight="bold" >D</text>
<rect x="14.5" y="310.3" width="83.1" height="72.5" fill="none" stroke="#333" stroke-width="0.8"/>
<line x1="12.50" y1="376.60" x2="14.50" y2="376.60" stroke="#333" stroke-width="0.6" />
<text transform="translate(10.90,376.60) rotate(-90)" font-size="2.9" fill="#444" stroke="#444" stroke-width="0.1" text-anchor="middle">0.0</text>
<line x1="21.80" y1="382.80" x2="21.80" y2="384.80" stroke="#333" stroke-width="0.6" />
<text x="21.80" y="390.00" font-size="2.9" fill="#444" text-anchor="middle" stroke="#444" stroke-width="0.1" >0.0</text>
<line x1="12.50" y1="363.78" x2="14.50" y2="363.78" stroke="#333" stroke-width="0.6" />
<text transform="translate(10.90,363.78) rotate(-90)" font-size="2.9" fill="#444" stroke="#444" stroke-width="0.1" text-anchor="middle">0.2</text>
<line x1="36.44" y1="382.80" x2="36.44" y2="384.80" stroke="#333" stroke-width="0.6" />
<text x="36.44" y="390.00" font-size="2.9" fill="#444" text-anchor="middle" stroke="#444" stroke-width="0.1" >0.2</text>
<line x1="12.50" y1="350.96" x2="14.50" y2="350.96" stroke="#333" stroke-width="0.6" />
<text transform="translate(10.90,350.96) rotate(-90)" font-size="2.9" fill="#444" stroke="#444" stroke-width="0.1" text-anchor="middle">0.4</text>
<line x1="51.08" y1="382.80" x2="51.08" y2="384.80" stroke="#333" stroke-width="0.6" />
<text x="51.08" y="390.00" font-size="2.9" fill="#444" text-anchor="middle" stroke="#444" stroke-width="0.1" >0.4</text>
<line x1="12.50" y1="338.14" x2="14.50" y2="338.14" stroke="#333" stroke-width="0.6" />
<text transform="translate(10.90,338.14) rotate(-90)" font-size="2.9" fill="#444" stroke="#444" stroke-width="0.1" text-anchor="middle">0.6</text>
<line x1="65.72" y1="382.80" x2="65.72" y2="384.80" stroke="#333" stroke-width="0.6" />
<text x="65.72" y="390.00" font-size="2.9" fill="#444" text-anchor="middle" stroke="#444" stroke-width="0.1" >0.6</text>
<line x1="12.50" y1="325.32" x2="14.50" y2="325.32" stroke="#333" stroke-width="0.6" />
<text transform="translate(10.90,325.32) rotate(-90)" font-size="2.9" fill="#444" stroke="#444" stroke-width="0.1" text-anchor="middle">0.8</text>
<line x1="80.36" y1="382.80" x2="80.36" y2="384.80" stroke="#333" stroke-width="0.6" />
<text x="80.36" y="390.00" font-size="2.9" fill="#444" text-anchor="middle" stroke="#444" stroke-width="0.1" >0.8</text>
<line x1="12.50" y1="312.50" x2="14.50" y2="312.50" stroke="#333" stroke-width="0.6" />
<text transform="translate(10.90,312.50) rotate(-90)" font-size="2.9" fill="#444" stroke="#444" stroke-width="0.1" text-anchor="middle">1.0</text>
<line x1="95.00" y1="382.80" x2="95.00" y2="384.80" stroke="#333" stroke-width="0.6" />
<text x="95.00" y="390.00" font-size="2.9" fill="#444" text-anchor="middle" stroke="#444" stroke-width="0.1" >1.0</text>
<text x="52.40" y="399.40" font-size="3.0" fill="#333" text-anchor="middle" stroke="#333" stroke-width="0.1" >Predicted probability</text>
<text transform="translate(2.9,346.6) rotate(-90)" font-size="2.9" fill="#333" stroke="#333" stroke-width="0.1" text-anchor="middle">Actual probability</text>
<line x1="16.90" y1="380.10" x2="94.30" y2="314.20" stroke="#222" stroke-width="0.9" stroke-dasharray="2.6,1.8"/>
<polyline points="23.70,378.30 30.00,371.50 36.30,364.10 44.00,355.50 51.20,347.40 58.00,338.50 65.00,330.80 69.00,328.60 73.00,327.80 75.50,328.50 76.40,329.70 78.70,324.80 82.00,322.00 88.00,319.20 94.70,316.20" fill="none" stroke="#cc2830" stroke-width="1.1" stroke-linejoin="round" stroke-linecap="round" />
<polyline points="23.70,378.60 30.00,371.90 36.30,364.50 44.00,356.00 51.20,348.00 58.00,339.50 65.00,331.80 69.00,329.60 73.00,328.80 75.50,329.20 76.40,329.90 78.70,325.20 82.00,322.40 88.00,319.40 94.70,316.40" fill="none" stroke="#666" stroke-width="0.45" stroke-linejoin="round" stroke-linecap="round" />
<line x1="61.60" y1="362.40" x2="67.70" y2="362.40" stroke="#999" stroke-width="0.5" stroke-dasharray="0.8,0.8"/>
<line x1="61.60" y1="365.70" x2="67.70" y2="365.70" stroke="#666" stroke-width="0.8" />
<line x1="61.60" y1="369.20" x2="67.70" y2="369.20" stroke="#222" stroke-width="0.8" stroke-dasharray="2,1.4"/>
<text x="70.80" y="363.40" font-size="2.9" fill="#333" text-anchor="start" stroke="#333" stroke-width="0.1" >Apparent</text>
<text x="70.80" y="366.80" font-size="2.9" fill="#333" text-anchor="start" stroke="#333" stroke-width="0.1" >Bias corrected</text>
<text x="70.80" y="370.30" font-size="2.9" fill="#333" text-anchor="start" stroke="#333" stroke-width="0.1" >Ideal</text>
<text x="99.60" y="306.90" font-size="7.8" fill="#000" text-anchor="start" font-weight="bold" >E</text>
<line x1="118.00" y1="311.00" x2="118.00" y2="372.00" stroke="#eee" stroke-width="0.5" />
<line x1="132.56" y1="311.00" x2="132.56" y2="372.00" stroke="#eee" stroke-width="0.5" />
<line x1="147.12" y1="311.00" x2="147.12" y2="372.00" stroke="#eee" stroke-width="0.5" />
<line x1="161.68" y1="311.00" x2="161.68" y2="372.00" stroke="#eee" stroke-width="0.5" />
<line x1="176.24" y1="311.00" x2="176.24" y2="372.00" stroke="#eee" stroke-width="0.5" />
<line x1="190.80" y1="311.00" x2="190.80" y2="372.00" stroke="#eee" stroke-width="0.5" />
<line x1="115.00" y1="368.80" x2="193.00" y2="368.80" stroke="#eee" stroke-width="0.5" />
<line x1="115.00" y1="353.70" x2="193.00" y2="353.70" stroke="#eee" stroke-width="0.5" />
<line x1="115.00" y1="338.60" x2="193.00" y2="338.60" stroke="#eee" stroke-width="0.5" />
<line x1="115.00" y1="323.50" x2="193.00" y2="323.50" stroke="#eee" stroke-width="0.5" />
<line x1="114.80" y1="323.20" x2="114.80" y2="369.10" stroke="#444" stroke-width="0.7" />
<line x1="113.30" y1="368.80" x2="114.80" y2="368.80" stroke="#444" stroke-width="0.6" />
<text transform="translate(111.60,368.80) rotate(-90)" font-size="2.7" fill="#444" stroke="#444" stroke-width="0.1" text-anchor="middle">0.0</text>
<line x1="113.30" y1="353.70" x2="114.80" y2="353.70" stroke="#444" stroke-width="0.6" />
<text transform="translate(111.60,353.70) rotate(-90)" font-size="2.7" fill="#444" stroke="#444" stroke-width="0.1" text-anchor="middle">0.2</text>
<line x1="113.30" y1="338.60" x2="114.80" y2="338.60" stroke="#444" stroke-width="0.6" />
<text transform="translate(111.60,338.60) rotate(-90)" font-size="2.7" fill="#444" stroke="#444" stroke-width="0.1" text-anchor="middle">0.4</text>
<line x1="113.30" y1="323.50" x2="114.80" y2="323.50" stroke="#444" stroke-width="0.6" />
<text transform="translate(111.60,323.50) rotate(-90)" font-size="2.7" fill="#444" stroke="#444" stroke-width="0.1" text-anchor="middle">0.6</text>
<text transform="translate(104.6,344) rotate(-90)" font-size="2.9" fill="#333" stroke="#333" stroke-width="0.1" text-anchor="middle">Net Benefit</text>
<line x1="118.00" y1="375.10" x2="190.80" y2="375.10" stroke="#444" stroke-width="0.7" />
<line x1="118.00" y1="375.10" x2="118.00" y2="376.60" stroke="#444" stroke-width="0.6" />
<text x="118.00" y="381.30" font-size="2.7" fill="#444" text-anchor="middle" stroke="#444" stroke-width="0.1" >0.0</text>
<line x1="132.56" y1="375.10" x2="132.56" y2="376.60" stroke="#444" stroke-width="0.6" />
<text x="132.56" y="381.30" font-size="2.7" fill="#444" text-anchor="middle" stroke="#444" stroke-width="0.1" >0.2</text>
<line x1="147.12" y1="375.10" x2="147.12" y2="376.60" stroke="#444" stroke-width="0.6" />
<text x="147.12" y="381.30" font-size="2.7" fill="#444" text-anchor="middle" stroke="#444" stroke-width="0.1" >0.4</text>
<line x1="161.68" y1="375.10" x2="161.68" y2="376.60" stroke="#444" stroke-width="0.6" />
<text x="161.68" y="381.30" font-size="2.7" fill="#444" text-anchor="middle" stroke="#444" stroke-width="0.1" >0.6</text>
<line x1="176.24" y1="375.10" x2="176.24" y2="376.60" stroke="#444" stroke-width="0.6" />
<text x="176.24" y="381.30" font-size="2.7" fill="#444" text-anchor="middle" stroke="#444" stroke-width="0.1" >0.8</text>
<line x1="190.80" y1="375.10" x2="190.80" y2="376.60" stroke="#444" stroke-width="0.6" />
<text x="190.80" y="381.30" font-size="2.7" fill="#444" text-anchor="middle" stroke="#444" stroke-width="0.1" >1.0</text>
<text x="154.40" y="385.20" font-size="2.9" fill="#333" text-anchor="middle" stroke="#333" stroke-width="0.1" >Threshold probability</text>
<line x1="118.00" y1="389.30" x2="190.80" y2="389.30" stroke="#444" stroke-width="0.7" />
<line x1="118.00" y1="389.30" x2="118.00" y2="390.80" stroke="#444" stroke-width="0.6" />
<text x="118.00" y="394.60" font-size="2.7" fill="#444" text-anchor="middle" stroke="#444" stroke-width="0.1" >1:100</text>
<line x1="132.56" y1="389.30" x2="132.56" y2="390.80" stroke="#444" stroke-width="0.6" />
<text x="132.56" y="394.60" font-size="2.7" fill="#444" text-anchor="middle" stroke="#444" stroke-width="0.1" >1:4</text>
<line x1="147.12" y1="389.30" x2="147.12" y2="390.80" stroke="#444" stroke-width="0.6" />
<text x="147.12" y="394.60" font-size="2.7" fill="#444" text-anchor="middle" stroke="#444" stroke-width="0.1" >2:3</text>
<line x1="161.68" y1="389.30" x2="161.68" y2="390.80" stroke="#444" stroke-width="0.6" />
<text x="161.68" y="394.60" font-size="2.7" fill="#444" text-anchor="middle" stroke="#444" stroke-width="0.1" >3:2</text>
<line x1="176.24" y1="389.30" x2="176.24" y2="390.80" stroke="#444" stroke-width="0.6" />
<text x="176.24" y="394.60" font-size="2.7" fill="#444" text-anchor="middle" stroke="#444" stroke-width="0.1" >4:1</text>
<line x1="190.80" y1="389.30" x2="190.80" y2="390.80" stroke="#444" stroke-width="0.6" />
<text x="190.80" y="394.60" font-size="2.7" fill="#444" text-anchor="middle" stroke="#444" stroke-width="0.1" >100:1</text>
<text x="154.40" y="398.60" font-size="2.9" fill="#333" text-anchor="middle" stroke="#333" stroke-width="0.1" >Cost:Benefit Ratio</text>
<line x1="113.40" y1="368.60" x2="191.60" y2="368.60" stroke="#5a5a5a" stroke-width="1.2" />
<polyline points="118.00,317.46 119.28,317.89 120.56,318.34 121.85,318.81 123.13,319.29 124.41,319.79 125.69,320.31 126.98,320.86 128.26,321.42 129.54,322.01 130.82,322.62 132.10,323.27 133.39,323.93 134.67,324.63 135.95,325.37 137.23,326.13 138.52,326.94 139.80,327.79 141.08,328.67 142.36,329.61 143.64,330.60 144.93,331.64 146.21,332.74 147.49,333.91 148.77,335.15 150.05,336.47 151.34,337.87 152.62,339.37 153.90,340.97 155.18,342.68 156.47,344.53 157.75,346.51 159.03,348.66 160.31,350.99 161.59,353.52 162.88,356.29 164.16,359.32 165.44,362.66 166.72,366.35 168.01,370.46 169.29,375.06" fill="none" stroke="#aaa" stroke-width="0.6" stroke-linejoin="round" stroke-linecap="round" />
<polyline points="117.60,317.50 125.00,318.80 132.40,320.10 139.50,321.80 145.00,323.40 149.90,326.30 154.80,328.60 159.00,332.60 163.20,335.60 166.70,336.00 169.50,337.80 173.00,343.20 178.60,351.60 180.70,354.80 183.00,348.40 185.30,355.00 186.80,353.70 189.10,370.20 189.80,375.00" fill="none" stroke="#cc2024" stroke-width="1.25" stroke-linejoin="round" stroke-linecap="round" />
<rect x="169.1" y="310.5" width="25.6" height="13" fill="#fff" stroke="#333" stroke-width="0.5"/>
<line x1="171.60" y1="313.60" x2="176.50" y2="313.60" stroke="#d8222c" stroke-width="1.0" />
<line x1="171.60" y1="317.10" x2="176.50" y2="317.10" stroke="#aaa" stroke-width="0.8" />
<line x1="171.60" y1="320.70" x2="176.50" y2="320.70" stroke="#555" stroke-width="1.0" />
<text x="178.60" y="314.60" font-size="2.6" fill="#333" text-anchor="start" stroke="#333" stroke-width="0.1" >eIS genes</text>
<text x="178.60" y="318.10" font-size="2.6" fill="#333" text-anchor="start" stroke="#333" stroke-width="0.1" >All</text>
<text x="178.60" y="321.70" font-size="2.6" fill="#333" text-anchor="start" stroke="#333" stroke-width="0.1" >None</text>
<text x="199.40" y="306.70" font-size="7.8" fill="#000" text-anchor="start" font-weight="bold" >F</text>
<line x1="219.40" y1="312.00" x2="219.40" y2="373.00" stroke="#eee" stroke-width="0.5" />
<line x1="234.18" y1="312.00" x2="234.18" y2="373.00" stroke="#eee" stroke-width="0.5" />
<line x1="248.96" y1="312.00" x2="248.96" y2="373.00" stroke="#eee" stroke-width="0.5" />
<line x1="263.74" y1="312.00" x2="263.74" y2="373.00" stroke="#eee" stroke-width="0.5" />
<line x1="278.52" y1="312.00" x2="278.52" y2="373.00" stroke="#eee" stroke-width="0.5" />
<line x1="293.30" y1="312.00" x2="293.30" y2="373.00" stroke="#eee" stroke-width="0.5" />
<line x1="216.50" y1="372.60" x2="296.00" y2="372.60" stroke="#eee" stroke-width="0.5" />
<line x1="216.50" y1="361.10" x2="296.00" y2="361.10" stroke="#eee" stroke-width="0.5" />
<line x1="216.50" y1="349.60" x2="296.00" y2="349.60" stroke="#eee" stroke-width="0.5" />
<line x1="216.50" y1="338.10" x2="296.00" y2="338.10" stroke="#eee" stroke-width="0.5" />
<line x1="216.50" y1="326.60" x2="296.00" y2="326.60" stroke="#eee" stroke-width="0.5" />
<line x1="216.50" y1="315.10" x2="296.00" y2="315.10" stroke="#eee" stroke-width="0.5" />
<line x1="216.30" y1="314.80" x2="216.30" y2="372.90" stroke="#444" stroke-width="0.7" />
<line x1="214.80" y1="372.60" x2="216.30" y2="372.60" stroke="#444" stroke-width="0.6" />
<text transform="translate(212.40,372.60) rotate(-90)" font-size="2.6" fill="#444" stroke="#444" stroke-width="0.1" text-anchor="middle">0</text>
<line x1="214.80" y1="361.10" x2="216.30" y2="361.10" stroke="#444" stroke-width="0.6" />
<text transform="translate(212.40,361.10) rotate(-90)" font-size="2.6" fill="#444" stroke="#444" stroke-width="0.1" text-anchor="middle">200</text>
<line x1="214.80" y1="349.60" x2="216.30" y2="349.60" stroke="#444" stroke-width="0.6" />
<text transform="translate(212.40,349.60) rotate(-90)" font-size="2.6" fill="#444" stroke="#444" stroke-width="0.1" text-anchor="middle">400</text>
<line x1="214.80" y1="338.10" x2="216.30" y2="338.10" stroke="#444" stroke-width="0.6" />
<text transform="translate(212.40,338.10) rotate(-90)" font-size="2.6" fill="#444" stroke="#444" stroke-width="0.1" text-anchor="middle">600</text>
<line x1="214.80" y1="326.60" x2="216.30" y2="326.60" stroke="#444" stroke-width="0.6" />
<text transform="translate(212.40,326.60) rotate(-90)" font-size="2.6" fill="#444" stroke="#444" stroke-width="0.1" text-anchor="middle">800</text>
<line x1="214.80" y1="315.10" x2="216.30" y2="315.10" stroke="#444" stroke-width="0.6" />
<text transform="translate(212.40,315.10) rotate(-90)" font-size="2.6" fill="#444" stroke="#444" stroke-width="0.1" text-anchor="middle">1000</text>
<text transform="translate(206.6,343.5) rotate(-90)" font-size="2.6" fill="#333" stroke="#333" stroke-width="0.1" text-anchor="middle">Number high risk (out of 1000)</text>
<line x1="219.40" y1="375.20" x2="293.30" y2="375.20" stroke="#444" stroke-width="0.7" />
<line x1="219.40" y1="375.20" x2="219.40" y2="376.70" stroke="#444" stroke-width="0.6" />
<text x="219.40" y="381.30" font-size="2.7" fill="#444" text-anchor="middle" stroke="#444" stroke-width="0.1" >0.0</text>
<line x1="234.18" y1="375.20" x2="234.18" y2="376.70" stroke="#444" stroke-width="0.6" />
<text x="234.18" y="381.30" font-size="2.7" fill="#444" text-anchor="middle" stroke="#444" stroke-width="0.1" >0.2</text>
<line x1="248.96" y1="375.20" x2="248.96" y2="376.70" stroke="#444" stroke-width="0.6" />
<text x="248.96" y="381.30" font-size="2.7" fill="#444" text-anchor="middle" stroke="#444" stroke-width="0.1" >0.4</text>
<line x1="263.74" y1="375.20" x2="263.74" y2="376.70" stroke="#444" stroke-width="0.6" />
<text x="263.74" y="381.30" font-size="2.7" fill="#444" text-anchor="middle" stroke="#444" stroke-width="0.1" >0.6</text>
<line x1="278.52" y1="375.20" x2="278.52" y2="376.70" stroke="#444" stroke-width="0.6" />
<text x="278.52" y="381.30" font-size="2.7" fill="#444" text-anchor="middle" stroke="#444" stroke-width="0.1" >0.8</text>
<line x1="293.30" y1="375.20" x2="293.30" y2="376.70" stroke="#444" stroke-width="0.6" />
<text x="293.30" y="381.30" font-size="2.7" fill="#444" text-anchor="middle" stroke="#444" stroke-width="0.1" >1.0</text>
<text x="256.40" y="385.20" font-size="2.9" fill="#333" text-anchor="middle" stroke="#333" stroke-width="0.1" >High Risk Threshold</text>
<line x1="219.40" y1="389.30" x2="293.30" y2="389.30" stroke="#444" stroke-width="0.7" />
<line x1="219.40" y1="389.30" x2="219.40" y2="390.80" stroke="#444" stroke-width="0.6" />
<text x="219.40" y="394.60" font-size="2.7" fill="#444" text-anchor="middle" stroke="#444" stroke-width="0.1" >1:100</text>
<line x1="234.18" y1="389.30" x2="234.18" y2="390.80" stroke="#444" stroke-width="0.6" />
<text x="234.18" y="394.60" font-size="2.7" fill="#444" text-anchor="middle" stroke="#444" stroke-width="0.1" >1:4</text>
<line x1="248.96" y1="389.30" x2="248.96" y2="390.80" stroke="#444" stroke-width="0.6" />
<text x="248.96" y="394.60" font-size="2.7" fill="#444" text-anchor="middle" stroke="#444" stroke-width="0.1" >2:3</text>
<line x1="263.74" y1="389.30" x2="263.74" y2="390.80" stroke="#444" stroke-width="0.6" />
<text x="263.74" y="394.60" font-size="2.7" fill="#444" text-anchor="middle" stroke="#444" stroke-width="0.1" >3:2</text>
<line x1="278.52" y1="389.30" x2="278.52" y2="390.80" stroke="#444" stroke-width="0.6" />
<text x="278.52" y="394.60" font-size="2.7" fill="#444" text-anchor="middle" stroke="#444" stroke-width="0.1" >4:1</text>
<line x1="293.30" y1="389.30" x2="293.30" y2="390.80" stroke="#444" stroke-width="0.6" />
<text x="293.30" y="394.60" font-size="2.7" fill="#444" text-anchor="middle" stroke="#444" stroke-width="0.1" >100:1</text>
<text x="256.40" y="398.60" font-size="2.9" fill="#333" text-anchor="middle" stroke="#333" stroke-width="0.1" >Cost:Benefit Ratio</text>
<polyline points="219.40,329.50 247.00,330.20 252.00,330.90 259.00,332.30 266.00,334.40 273.00,336.50 280.00,339.30 285.00,342.80 289.50,348.00 292.00,355.00 293.30,372.70" fill="none" stroke="#6a8fb8" stroke-width="0.6" stroke-linejoin="round" stroke-linecap="round" stroke-dasharray="1.4,1.4"/>
<polyline points="219.40,338.60 240.00,339.30 247.00,340.70 252.00,342.10 259.00,344.90 266.00,347.20 273.00,350.80 280.00,355.60 286.00,361.60 290.50,367.50 293.30,372.70" fill="none" stroke="#6a8fb8" stroke-width="0.6" stroke-linejoin="round" stroke-linecap="round" stroke-dasharray="1.4,1.4"/>
<polyline points="219.00,315.10 226.00,318.20 233.00,320.00 240.00,321.60 248.30,322.60 254.00,324.40 258.00,326.00 266.00,328.40 271.20,331.90 276.00,335.00 281.80,339.20 286.00,342.20 288.40,344.20 291.20,348.00 292.70,354.00 293.20,362.00 293.30,372.70" fill="none" stroke="#d84040" stroke-width="0.6" stroke-linejoin="round" stroke-linecap="round" />
<polyline points="219.00,315.10 219.70,320.40 221.80,323.90 227.40,326.70 230.00,327.90 239.20,329.80 248.30,333.60 257.50,337.60 262.00,340.00 266.00,342.60 271.20,347.60 279.10,353.70 285.70,359.00 290.40,364.30 293.30,372.70" fill="none" stroke="#d84040" stroke-width="0.6" stroke-linejoin="round" stroke-linecap="round" />
<polyline points="219.00,315.10 221.80,318.30 226.00,321.50 230.20,322.90 234.40,323.30 240.00,325.30 247.00,327.40 252.00,328.80 259.00,331.60 266.00,335.10 273.00,339.30 280.00,344.60 285.60,349.60 289.80,354.60 291.90,359.40 292.90,367.00 293.30,372.70" fill="none" stroke="#cc1f26" stroke-width="1.3" stroke-linejoin="round" stroke-linecap="round" />
<polyline points="219.40,334.10 247.00,334.20 251.20,335.10 259.00,337.20 266.00,340.00 273.00,343.50 280.00,348.40 285.60,353.60 289.80,359.50 291.80,364.50 293.30,372.70" fill="none" stroke="#2c4a78" stroke-width="1.3" stroke-linejoin="round" stroke-linecap="round" stroke-dasharray="3,2"/>
<rect x="250.6" y="310.3" width="45.5" height="9.8" fill="#fff" stroke="#333" stroke-width="0.5"/>
<line x1="252.70" y1="313.40" x2="258.30" y2="313.40" stroke="#d8222c" stroke-width="1.0" />
<line x1="252.70" y1="316.90" x2="258.30" y2="316.90" stroke="#6a8fb8" stroke-width="0.8" stroke-dasharray="1.2,1.2"/>
<text x="260.40" y="314.40" font-size="2.6" fill="#333" text-anchor="start" stroke="#333" stroke-width="0.1" >Number high risk</text>
<text x="260.40" y="317.90" font-size="2.6" fill="#333" text-anchor="start" stroke="#333" stroke-width="0.1" >Number high risk with event</text>
<text x="301.60" y="306.90" font-size="7.8" fill="#000" text-anchor="start" font-weight="bold" >G</text>
<line x1="319.60" y1="312.30" x2="319.60" y2="386.60" stroke="#333" stroke-width="0.8" />
<line x1="319.20" y1="386.20" x2="389.50" y2="386.20" stroke="#333" stroke-width="0.8" />
<line x1="318.30" y1="386.20" x2="319.60" y2="386.20" stroke="#333" stroke-width="0.6" />
<text x="316.60" y="387.40" font-size="3.4" fill="#444" text-anchor="end" stroke="#444" stroke-width="0.1" >0.0</text>
<line x1="320.50" y1="386.20" x2="320.50" y2="387.50" stroke="#333" stroke-width="0.6" />
<text x="320.50" y="391.90" font-size="3.4" fill="#444" text-anchor="middle" stroke="#444" stroke-width="0.1" >0.0</text>
<line x1="318.30" y1="371.48" x2="319.60" y2="371.48" stroke="#333" stroke-width="0.6" />
<text x="316.60" y="372.68" font-size="3.4" fill="#444" text-anchor="end" stroke="#444" stroke-width="0.1" >0.2</text>
<line x1="334.24" y1="386.20" x2="334.24" y2="387.50" stroke="#333" stroke-width="0.6" />
<text x="334.24" y="391.90" font-size="3.4" fill="#444" text-anchor="middle" stroke="#444" stroke-width="0.1" >0.2</text>
<line x1="318.30" y1="356.76" x2="319.60" y2="356.76" stroke="#333" stroke-width="0.6" />
<text x="316.60" y="357.96" font-size="3.4" fill="#444" text-anchor="end" stroke="#444" stroke-width="0.1" >0.4</text>
<line x1="347.98" y1="386.20" x2="347.98" y2="387.50" stroke="#333" stroke-width="0.6" />
<text x="347.98" y="391.90" font-size="3.4" fill="#444" text-anchor="middle" stroke="#444" stroke-width="0.1" >0.4</text>
<line x1="318.30" y1="342.04" x2="319.60" y2="342.04" stroke="#333" stroke-width="0.6" />
<text x="316.60" y="343.24" font-size="3.4" fill="#444" text-anchor="end" stroke="#444" stroke-width="0.1" >0.6</text>
<line x1="361.72" y1="386.20" x2="361.72" y2="387.50" stroke="#333" stroke-width="0.6" />
<text x="361.72" y="391.90" font-size="3.4" fill="#444" text-anchor="middle" stroke="#444" stroke-width="0.1" >0.6</text>
<line x1="318.30" y1="327.32" x2="319.60" y2="327.32" stroke="#333" stroke-width="0.6" />
<text x="316.60" y="328.52" font-size="3.4" fill="#444" text-anchor="end" stroke="#444" stroke-width="0.1" >0.8</text>
<line x1="375.46" y1="386.20" x2="375.46" y2="387.50" stroke="#333" stroke-width="0.6" />
<text x="375.46" y="391.90" font-size="3.4" fill="#444" text-anchor="middle" stroke="#444" stroke-width="0.1" >0.8</text>
<line x1="318.30" y1="312.60" x2="319.60" y2="312.60" stroke="#333" stroke-width="0.6" />
<text x="316.60" y="313.80" font-size="3.4" fill="#444" text-anchor="end" stroke="#444" stroke-width="0.1" >1.0</text>
<line x1="389.20" y1="386.20" x2="389.20" y2="387.50" stroke="#333" stroke-width="0.6" />
<text x="389.20" y="391.90" font-size="3.4" fill="#444" text-anchor="middle" stroke="#444" stroke-width="0.1" >1.0</text>
<text transform="translate(309.4,349) rotate(-90)" font-size="4.3" fill="#333" stroke="#333" stroke-width="0.1" text-anchor="middle">Sensitivity (TPR)</text>
<text x="354.80" y="397.10" font-size="4.3" fill="#333" text-anchor="middle" stroke="#333" stroke-width="0.1" >1-Specificity (FPR)</text>
<line x1="320.50" y1="386.20" x2="389.20" y2="312.60" stroke="#999" stroke-width="0.6" />
<polyline points="320.50,386.20 320.50,352.20 322.40,352.20 322.40,333.30 324.20,333.30 324.20,322.30 326.10,322.30 326.10,317.20 327.70,317.20 327.70,315.90 331.20,315.90 331.20,315.00 338.20,315.00 338.20,312.60 389.20,312.60" fill="none" stroke="#cc1f26" stroke-width="1.1" stroke-linejoin="round" stroke-linecap="round" stroke-linecap="butt" stroke-linejoin="miter"/>
<text x="387.80" y="375.20" font-size="3.0" fill="#333" text-anchor="end" stroke="#333" stroke-width="0.1" >model</text>
<text x="387.80" y="379.80" font-size="3.0" fill="#333" text-anchor="end" stroke="#333" stroke-width="0.1" >AUC: 0.967</text>
<text x="387.80" y="384.10" font-size="3.0" fill="#333" text-anchor="end" stroke="#333" stroke-width="0.1" >CI: 0.930-1.000</text>
</g>
</svg>
</body></html>
